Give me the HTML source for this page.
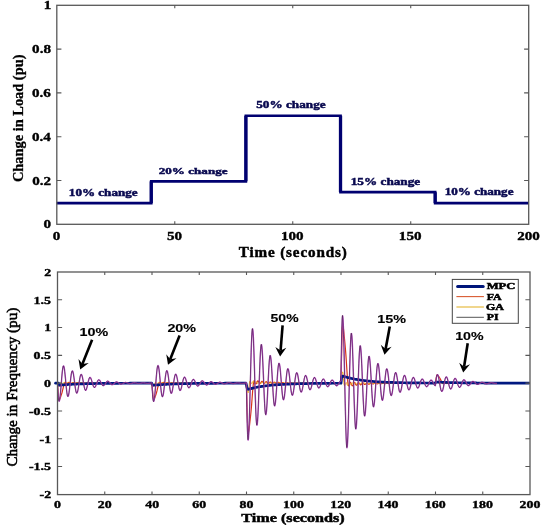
<!DOCTYPE html>
<html><head><meta charset="utf-8"><title>Load change and frequency response</title>
<style>html,body{margin:0;padding:0;background:#fff;}svg{display:block;filter:blur(0.3px);}</style>
</head><body>
<svg width="550" height="530" viewBox="0 0 550 530"><rect x="56.8" y="5.3" width="471.90" height="219.00" fill="#fff" stroke="none"/>
<path d="M56.60,203.15 L151.24,203.15 L151.24,181.30 L245.88,181.30 L245.88,115.75 L340.52,115.75 L340.52,192.22 L435.16,192.22 L435.16,203.15 L528.62,203.15" fill="none" stroke="#000070" stroke-width="2.7" stroke-linejoin="miter"/>
<line x1="151.24" y1="203.15" x2="151.24" y2="181.30" stroke="#000070" stroke-width="3.3"/>
<line x1="245.88" y1="181.30" x2="245.88" y2="115.75" stroke="#000070" stroke-width="3.3"/>
<line x1="340.52" y1="115.75" x2="340.52" y2="192.22" stroke="#000070" stroke-width="3.3"/>
<line x1="435.16" y1="192.22" x2="435.16" y2="203.15" stroke="#000070" stroke-width="3.3"/>
<path d="M56.8,180.50h4.6 M528.7,180.50h-4.6 M56.8,136.70h4.6 M528.7,136.70h-4.6 M56.8,92.90h4.6 M528.7,92.90h-4.6 M56.8,49.10h4.6 M528.7,49.10h-4.6 M174.77,224.3v-3 M174.77,5.3v3 M292.75,224.3v-3 M292.75,5.3v3 M410.73,224.3v-3 M410.73,5.3v3" stroke="#585858" stroke-width="1.1" fill="none"/>
<rect x="56.8" y="5.3" width="471.90" height="219.00" fill="none" stroke="#585858" stroke-width="1.3"/>
<text transform="translate(43.72,9.36) scale(1.26,1)" font-family="'Liberation Serif',serif" font-weight="bold" font-size="12.0" stroke="#000" stroke-width="0.35">1</text>
<text transform="translate(32.10,53.19) scale(1.26,1)" font-family="'Liberation Serif',serif" font-weight="bold" font-size="12.0" stroke="#000" stroke-width="0.35">0.8</text>
<text transform="translate(32.04,96.99) scale(1.26,1)" font-family="'Liberation Serif',serif" font-weight="bold" font-size="12.0" stroke="#000" stroke-width="0.35">0.6</text>
<text transform="translate(31.88,140.79) scale(1.26,1)" font-family="'Liberation Serif',serif" font-weight="bold" font-size="12.0" stroke="#000" stroke-width="0.35">0.4</text>
<text transform="translate(32.25,184.59) scale(1.26,1)" font-family="'Liberation Serif',serif" font-weight="bold" font-size="12.0" stroke="#000" stroke-width="0.35">0.2</text>
<text transform="translate(43.52,228.39) scale(1.26,1)" font-family="'Liberation Serif',serif" font-weight="bold" font-size="12.0" stroke="#000" stroke-width="0.35">0</text>
<text transform="translate(52.82,239.85) scale(1.26,1)" font-family="'Liberation Serif',serif" font-weight="bold" font-size="12.0" stroke="#000" stroke-width="0.35">0</text>
<text transform="translate(167.00,239.85) scale(1.26,1)" font-family="'Liberation Serif',serif" font-weight="bold" font-size="12.0" stroke="#000" stroke-width="0.35">50</text>
<text transform="translate(280.89,239.85) scale(1.26,1)" font-family="'Liberation Serif',serif" font-weight="bold" font-size="12.0" stroke="#000" stroke-width="0.35">100</text>
<text transform="translate(398.87,239.85) scale(1.26,1)" font-family="'Liberation Serif',serif" font-weight="bold" font-size="12.0" stroke="#000" stroke-width="0.35">150</text>
<text transform="translate(517.13,239.85) scale(1.26,1)" font-family="'Liberation Serif',serif" font-weight="bold" font-size="12.0" stroke="#000" stroke-width="0.35">200</text>
<text transform="translate(238.76,256.75) scale(1.100,1)" font-family="'Liberation Serif',serif" font-weight="bold" font-size="13.74" letter-spacing="0.79" fill="#000" stroke="#000" stroke-width="0.45">Time (seconds)</text>
<text transform="translate(23.40,182.10) rotate(-90) scale(1.051,1)" font-family="'Liberation Serif',serif" font-weight="bold" font-size="13.70" fill="#000" stroke="#000" stroke-width="0.3">Change in Load (pu)</text>
<text transform="translate(68.85,195.85) scale(1.399,1)" font-family="'Liberation Serif',serif" font-weight="bold" font-size="9.37" fill="#0a0a50" stroke="#0a0a50" stroke-width="0.45">10% change</text>
<text transform="translate(158.75,173.55) scale(1.423,1)" font-family="'Liberation Serif',serif" font-weight="bold" font-size="9.22" fill="#0a0a50" stroke="#0a0a50" stroke-width="0.45">20% change</text>
<text transform="translate(256.27,108.45) scale(1.310,1)" font-family="'Liberation Serif',serif" font-weight="bold" font-size="10.09" fill="#0a0a50" stroke="#0a0a50" stroke-width="0.45">50% change</text>
<text transform="translate(350.74,184.85) scale(1.371,1)" font-family="'Liberation Serif',serif" font-weight="bold" font-size="9.66" fill="#0a0a50" stroke="#0a0a50" stroke-width="0.45">15% change</text>
<text transform="translate(444.75,194.55) scale(1.399,1)" font-family="'Liberation Serif',serif" font-weight="bold" font-size="9.37" fill="#0a0a50" stroke="#0a0a50" stroke-width="0.45">10% change</text>
<defs><clipPath id="cpi"><rect x="57.5" y="272.0" width="439.43" height="222.60"/></clipPath></defs>
<defs><clipPath id="cb"><rect x="57.5" y="272.0" width="472.50" height="222.60"/></clipPath></defs>
<g clip-path="url(#cb)">
<path d="M57.50,383.15L57.85,388.28L58.21,393.02L58.56,396.80L58.92,399.14L59.27,399.80L59.63,399.38L59.98,398.65L60.34,397.72L60.69,396.69L61.04,395.64L61.40,394.57L61.75,393.47L62.11,392.27L62.46,390.94L62.82,389.48L63.17,387.91L63.52,386.33L63.88,384.87L64.23,383.66L64.59,382.81L64.94,382.39L65.30,382.41L65.65,382.68L66.00,382.98L66.36,383.24L66.71,383.37L67.07,383.36L67.42,383.20L67.78,382.95L68.13,382.69L68.49,382.48L68.84,382.39L69.19,382.44L69.55,382.61L69.90,382.85L70.26,383.09L70.61,383.27L70.97,383.34L71.32,383.29L71.67,383.13L72.03,382.92L72.38,382.72L72.74,382.58L73.09,382.54L73.45,382.62L73.80,382.78L74.16,382.98L74.51,383.16L74.86,383.28L75.22,383.30L75.57,383.22L75.93,383.08L76.28,382.91L76.64,382.76L76.99,382.67L77.34,382.67L77.70,382.76L78.05,382.90L78.41,383.06L78.76,383.20L79.12,383.27L79.47,383.26L79.83,383.18L80.18,383.05L80.53,382.91L80.89,382.80L81.24,382.76L81.60,382.78L81.95,382.87L82.31,382.99L82.66,383.12L83.02,383.21L83.37,383.25L83.72,383.22L84.08,383.14L84.43,383.03L84.79,382.92L85.14,382.85L85.50,382.83L85.85,382.87L86.20,382.96L86.56,383.06L86.91,383.15L87.27,383.22L87.62,383.23L87.98,383.19L88.33,383.11L88.69,383.02L89.04,382.95L89.39,382.90L89.75,382.90L90.10,382.95L90.46,383.02L90.81,383.10L91.17,383.17L91.52,383.21L91.87,383.21L92.23,383.16L92.58,383.10L92.94,383.03L93.29,382.97L93.65,382.95L94.00,382.96L94.35,383.00L94.71,383.07L95.06,383.13L95.42,383.18L95.77,383.20L96.13,383.19L96.48,383.14L96.84,383.09L97.19,383.03L97.54,383.00L97.90,382.99L98.25,383.01L98.61,383.05L98.96,383.10L99.32,383.15L99.67,383.18L100.03,383.19L100.38,383.17L100.73,383.13L101.09,383.08L101.44,383.04L101.80,383.02L102.15,383.02L102.51,383.04L102.86,383.08L103.21,383.13L103.57,383.16L103.92,383.18L104.28,383.18L104.63,383.16L104.99,383.12L105.34,383.09L105.69,383.06L106.05,383.04L106.40,383.05L106.76,383.07L107.11,383.11L107.47,383.14L107.82,383.17L108.18,383.18L108.53,383.17L108.88,383.15L109.24,383.12L109.59,383.09L109.95,383.07L110.30,383.07L110.66,383.08L111.01,383.10L111.37,383.13L111.72,383.15L112.07,383.17L112.43,383.17L112.78,383.16L113.14,383.14L113.49,383.12L113.85,383.09L114.20,383.08L114.55,383.08L114.91,383.10L115.26,383.12L115.62,383.14L115.97,383.16L116.33,383.17L116.68,383.17L117.03,383.15L117.39,383.14L117.74,383.12L118.10,383.10L118.45,383.10L118.81,383.10L119.16,383.11L119.52,383.13L119.87,383.15L120.22,383.16L120.58,383.16L120.93,383.16L121.29,383.15L121.64,383.13L122.00,383.12L122.35,383.11L122.70,383.11L123.06,383.11L123.41,383.12L123.77,383.14L124.12,383.15L124.48,383.16L124.83,383.16L125.19,383.16L125.54,383.14L125.89,383.13L126.25,383.12L126.60,383.12L126.96,383.12L127.31,383.12L127.67,383.13L128.02,383.14L128.38,383.15L128.73,383.16L129.08,383.16L129.44,383.15L129.79,383.14L130.15,383.13L130.50,383.12L130.86,383.12L131.21,383.12L131.56,383.13L131.92,383.14L132.27,383.15L132.63,383.15L132.98,383.16L133.34,383.16L133.69,383.15L134.05,383.14L134.40,383.13L134.75,383.13L135.11,383.13L135.46,383.13L135.82,383.14L136.17,383.14L136.53,383.15L136.88,383.15L137.23,383.16L137.59,383.15L137.94,383.15L138.30,383.14L138.65,383.14L139.01,383.13L139.36,383.13L139.72,383.14L140.07,383.14L140.42,383.15L140.78,383.15L141.13,383.15L141.49,383.15L141.84,383.15L142.20,383.15L142.55,383.14L142.90,383.14L143.26,383.14L143.61,383.14L143.97,383.14L144.32,383.14L144.68,383.15L145.03,383.15L145.38,383.15L145.74,383.15L146.09,383.15L146.45,383.15L146.80,383.14L147.16,383.14L147.51,383.14L147.87,383.14L148.22,383.14L148.57,383.15L148.93,383.15L149.28,383.15L149.64,383.15L149.99,383.15L150.35,383.15L150.70,383.15L151.06,383.14L151.41,383.14L151.76,383.14L152.12,384.86L152.47,389.93L152.83,394.41L153.18,397.76L153.54,399.56L153.89,399.70L154.24,399.16L154.60,398.35L154.95,397.38L155.31,396.33L155.66,395.28L156.02,394.20L156.37,393.08L156.72,391.84L157.08,390.47L157.43,388.96L157.79,387.38L158.14,385.83L158.50,384.43L158.85,383.33L159.21,382.62L159.56,382.34L159.91,382.48L160.27,382.77L160.62,383.07L160.98,383.30L161.33,383.39L161.69,383.32L162.04,383.13L162.39,382.86L162.75,382.61L163.10,382.44L163.46,382.39L163.81,382.48L164.17,382.68L164.52,382.93L164.88,383.16L165.23,383.31L165.58,383.34L165.94,383.24L166.29,383.06L166.65,382.85L167.00,382.66L167.36,382.55L167.71,382.55L168.06,382.66L168.42,382.84L168.77,383.04L169.13,383.21L169.48,383.30L169.84,383.29L170.19,383.18L170.55,383.02L170.90,382.85L171.25,382.72L171.61,382.66L171.96,382.69L172.32,382.80L172.67,382.95L173.03,383.11L173.38,383.23L173.73,383.27L174.09,383.24L174.44,383.14L174.80,383.00L175.15,382.87L175.51,382.78L175.86,382.76L176.22,382.80L176.57,382.91L176.92,383.04L177.28,383.15L177.63,383.23L177.99,383.25L178.34,383.20L178.70,383.10L179.05,382.99L179.41,382.89L179.76,382.84L180.11,382.84L180.47,382.89L180.82,382.99L181.18,383.09L181.53,383.18L181.89,383.23L182.24,383.22L182.59,383.17L182.95,383.08L183.30,382.99L183.66,382.93L184.01,382.89L184.37,382.91L184.72,382.97L185.07,383.05L185.43,383.13L185.78,383.19L186.14,383.21L186.49,383.20L186.85,383.14L187.20,383.07L187.56,383.00L187.91,382.96L188.26,382.95L188.62,382.97L188.97,383.02L189.33,383.09L189.68,383.15L190.04,383.19L190.39,383.20L190.75,383.18L191.10,383.13L191.45,383.07L191.81,383.02L192.16,382.99L192.52,382.99L192.87,383.02L193.23,383.07L193.58,383.12L193.93,383.17L194.29,383.19L194.64,383.19L195.00,383.16L195.35,383.12L195.71,383.07L196.06,383.03L196.41,383.02L196.77,383.03L197.12,383.06L197.48,383.10L197.83,383.14L198.19,383.17L198.54,383.18L198.90,383.17L199.25,383.15L199.60,383.11L199.96,383.07L200.31,383.05L200.67,383.04L201.02,383.06L201.38,383.08L201.73,383.12L202.08,383.15L202.44,383.17L202.79,383.18L203.15,383.16L203.50,383.14L203.86,383.11L204.21,383.08L204.57,383.07L204.92,383.07L205.27,383.08L205.63,383.11L205.98,383.13L206.34,383.16L206.69,383.17L207.05,383.17L207.40,383.15L207.75,383.13L208.11,383.11L208.46,383.09L208.82,383.08L209.17,383.09L209.53,383.10L209.88,383.12L210.24,383.14L210.59,383.16L210.94,383.17L211.30,383.16L211.65,383.15L212.01,383.13L212.36,383.11L212.72,383.10L213.07,383.09L213.43,383.10L213.78,383.12L214.13,383.13L214.49,383.15L214.84,383.16L215.20,383.16L215.55,383.16L215.91,383.14L216.26,383.13L216.61,383.11L216.97,383.11L217.32,383.11L217.68,383.11L218.03,383.13L218.39,383.14L218.74,383.15L219.09,383.16L219.45,383.16L219.80,383.15L220.16,383.14L220.51,383.13L220.87,383.12L221.22,383.11L221.58,383.12L221.93,383.12L222.28,383.14L222.64,383.15L222.99,383.16L223.35,383.16L223.70,383.16L224.06,383.15L224.41,383.14L224.76,383.13L225.12,383.12L225.47,383.12L225.83,383.12L226.18,383.13L226.54,383.14L226.89,383.15L227.25,383.16L227.60,383.16L227.95,383.15L228.31,383.15L228.66,383.14L229.02,383.13L229.37,383.13L229.73,383.13L230.08,383.13L230.44,383.14L230.79,383.15L231.14,383.15L231.50,383.16L231.85,383.16L232.21,383.15L232.56,383.15L232.92,383.14L233.27,383.13L233.62,383.13L233.98,383.13L234.33,383.14L234.69,383.14L235.04,383.15L235.40,383.15L235.75,383.15L236.10,383.15L236.46,383.15L236.81,383.14L237.17,383.14L237.52,383.14L237.88,383.14L238.23,383.14L238.59,383.14L238.94,383.15L239.29,383.15L239.65,383.15L240.00,383.15L240.36,383.15L240.71,383.15L241.07,383.14L241.42,383.14L241.78,383.14L242.13,383.14L242.48,383.14L242.84,383.14L243.19,383.15L243.55,383.15L243.90,383.15L244.26,383.15L244.61,383.15L244.96,383.15L245.32,383.14L245.67,383.14L246.03,383.14L246.38,383.14L246.74,393.45L247.09,408.27L247.44,420.73L247.80,429.33L248.15,433.03L248.51,432.38L248.86,430.46L249.22,427.82L249.57,424.81L249.93,421.66L250.28,418.48L250.63,415.22L250.99,411.74L251.34,407.90L251.70,403.64L252.05,399.01L252.41,394.25L252.76,389.71L253.12,385.79L253.47,382.84L253.82,381.13L254.18,380.75L254.53,381.43L254.89,382.35L255.24,383.19L255.60,383.73L255.95,383.84L256.30,383.50L256.66,382.82L257.01,382.02L257.37,381.32L257.72,380.92L258.08,380.93L258.43,381.32L258.78,381.99L259.14,382.74L259.49,383.36L259.85,383.69L260.20,383.65L260.56,383.27L260.91,382.67L261.27,382.03L261.62,381.54L261.97,381.32L262.33,381.44L262.68,381.84L263.04,382.42L263.39,383.01L263.75,383.44L264.10,383.61L264.46,383.48L264.81,383.10L265.16,382.59L265.52,382.10L265.87,381.77L266.23,381.68L266.58,381.86L266.94,382.25L267.29,382.73L267.64,383.17L268.00,383.45L268.35,383.51L268.71,383.33L269.06,382.98L269.42,382.56L269.77,382.20L270.12,381.99L270.48,381.99L270.83,382.20L271.19,382.55L271.54,382.94L271.90,383.26L272.25,383.43L272.61,383.41L272.96,383.21L273.31,382.90L273.67,382.57L274.02,382.31L274.38,382.20L274.73,382.26L275.09,382.47L275.44,382.77L275.79,383.08L276.15,383.30L276.50,383.39L276.86,383.32L277.21,383.12L277.57,382.86L277.92,382.61L278.28,382.43L278.63,382.39L278.98,382.48L279.34,382.68L279.69,382.93L280.05,383.16L280.40,383.31L280.76,383.34L281.11,383.24L281.47,383.06L281.82,382.85L282.17,382.66L282.53,382.55L282.88,382.55L283.24,382.66L283.59,382.84L283.95,383.04L284.30,383.21L284.65,383.30L285.01,383.29L285.36,383.18L285.72,383.02L286.07,382.85L286.43,382.72L286.78,382.66L287.13,382.69L287.49,382.80L287.84,382.95L288.20,383.11L288.55,383.23L288.91,383.27L289.26,383.24L289.62,383.14L289.97,383.00L290.32,382.87L290.68,382.78L291.03,382.75L291.39,382.80L291.74,382.91L292.10,383.04L292.45,383.16L292.81,383.23L293.16,383.25L293.51,383.20L293.87,383.10L294.22,382.99L294.58,382.89L294.93,382.84L295.29,382.84L295.64,382.89L295.99,382.99L296.35,383.09L296.70,383.18L297.06,383.23L297.41,383.22L297.77,383.17L298.12,383.08L298.48,382.99L298.83,382.92L299.18,382.89L299.54,382.91L299.89,382.97L300.25,383.05L300.60,383.13L300.96,383.19L301.31,383.21L301.66,383.20L302.02,383.14L302.37,383.07L302.73,383.00L303.08,382.96L303.44,382.94L303.79,382.97L304.14,383.02L304.50,383.09L304.85,383.15L305.21,383.19L305.56,383.20L305.92,383.18L306.27,383.13L306.63,383.07L306.98,383.02L307.33,382.99L307.69,382.99L308.04,383.02L308.40,383.07L308.75,383.12L309.11,383.17L309.46,383.19L309.81,383.19L310.17,383.16L310.52,383.12L310.88,383.07L311.23,383.03L311.59,383.02L311.94,383.03L312.30,383.06L312.65,383.10L313.00,383.14L313.36,383.17L313.71,383.18L314.07,383.17L314.42,383.15L314.78,383.11L315.13,383.07L315.49,383.05L315.84,383.04L316.19,383.06L316.55,383.08L316.90,383.12L317.26,383.15L317.61,383.17L317.97,383.18L318.32,383.16L318.67,383.14L319.03,383.11L319.38,383.08L319.74,383.07L320.09,383.07L320.45,383.08L320.80,383.11L321.15,383.13L321.51,383.16L321.86,383.17L322.22,383.17L322.57,383.15L322.93,383.13L323.28,383.11L323.64,383.09L323.99,383.08L324.34,383.09L324.70,383.10L325.05,383.12L325.41,383.14L325.76,383.16L326.12,383.17L326.47,383.16L326.82,383.15L327.18,383.13L327.53,383.11L327.89,383.10L328.24,383.09L328.60,383.10L328.95,383.12L329.31,383.13L329.66,383.15L330.01,383.16L330.37,383.16L330.72,383.16L331.08,383.14L331.43,383.13L331.79,383.11L332.14,383.11L332.49,383.11L332.85,383.11L333.20,383.13L333.56,383.14L333.91,383.15L334.27,383.16L334.62,383.16L334.98,383.15L335.33,383.14L335.68,383.13L336.04,383.12L336.39,383.11L336.75,383.12L337.10,383.12L337.46,383.14L337.81,383.15L338.17,383.16L338.52,383.16L338.87,383.16L339.23,383.15L339.58,383.14L339.94,383.13L340.29,383.12L340.65,383.12L341.00,383.12L341.35,365.17L341.71,348.59L342.06,335.39L342.42,327.17L342.77,324.89L343.13,326.35L343.48,328.91L343.83,332.16L344.19,335.74L344.54,339.42L344.90,343.15L345.25,347.02L345.61,351.21L345.96,355.87L346.32,361.01L346.67,366.50L347.02,372.02L347.38,377.13L347.73,381.36L348.09,384.33L348.44,385.80L348.80,385.74L349.15,384.79L349.50,383.72L349.86,382.83L350.21,382.37L350.57,382.43L350.92,382.98L351.28,383.84L351.63,384.76L351.99,385.48L352.34,385.79L352.69,385.62L353.05,385.02L353.40,384.19L353.76,383.34L354.11,382.72L354.47,382.48L354.82,382.68L355.18,383.23L355.53,383.96L355.88,384.67L356.24,385.15L356.59,385.27L356.95,385.01L357.30,384.45L357.66,383.75L358.01,383.11L358.36,382.70L358.72,382.63L359.07,382.89L359.43,383.40L359.78,384.00L360.14,384.53L360.49,384.82L360.85,384.82L361.20,384.51L361.55,384.01L361.91,383.45L362.26,382.98L362.62,382.74L362.97,382.77L363.33,383.06L363.68,383.51L364.03,383.99L364.39,384.36L364.74,384.52L365.10,384.43L365.45,384.12L365.81,383.69L366.16,383.25L366.51,382.93L366.87,382.80L367.22,382.90L367.58,383.19L367.93,383.57L368.29,383.94L368.64,384.19L369.00,384.25L369.35,384.11L369.70,383.82L370.06,383.46L370.41,383.13L370.77,382.92L371.12,382.88L371.48,383.02L371.83,383.28L372.18,383.59L372.54,383.86L372.89,384.02L373.25,384.01L373.60,383.86L373.96,383.60L374.31,383.30L374.67,383.06L375.02,382.94L375.37,382.95L375.73,383.10L376.08,383.34L376.44,383.59L376.79,383.78L377.15,383.86L377.50,383.81L377.86,383.66L378.21,383.43L378.56,383.20L378.92,383.03L379.27,382.97L379.63,383.02L379.98,383.17L380.34,383.37L380.69,383.56L381.04,383.69L381.40,383.72L381.75,383.65L382.11,383.50L382.46,383.31L382.82,383.14L383.17,383.03L383.52,383.01L383.88,383.08L384.23,383.22L384.59,383.38L384.94,383.52L385.30,383.60L385.65,383.60L386.01,383.52L386.36,383.38L386.71,383.23L387.07,383.11L387.42,383.04L387.78,383.05L388.13,383.13L388.49,383.25L388.84,383.38L389.19,383.48L389.55,383.52L389.90,383.49L390.26,383.41L390.61,383.30L390.97,383.18L391.32,383.09L391.68,383.06L392.03,383.08L392.38,383.16L392.74,383.26L393.09,383.36L393.45,383.43L393.80,383.45L394.16,383.41L394.51,383.33L394.86,383.23L395.22,383.14L395.57,383.09L395.93,383.08L396.28,383.11L396.64,383.18L396.99,383.27L397.35,383.34L397.70,383.38L398.05,383.38L398.41,383.34L398.76,383.27L399.12,383.19L399.47,383.13L399.83,383.09L400.18,383.10L400.54,383.14L400.89,383.20L401.24,383.27L401.60,383.32L401.95,383.34L402.31,383.33L402.66,383.29L403.02,383.23L403.37,383.16L403.72,383.12L404.08,383.10L404.43,383.12L404.79,383.16L405.14,383.21L405.50,383.26L405.85,383.29L406.20,383.30L406.56,383.28L406.91,383.24L407.27,383.19L407.62,383.15L407.98,383.12L408.33,383.11L408.69,383.13L409.04,383.17L409.39,383.21L409.75,383.25L410.10,383.27L410.46,383.27L410.81,383.25L411.17,383.21L411.52,383.17L411.88,383.14L412.23,383.12L412.58,383.12L412.94,383.14L413.29,383.18L413.65,383.21L414.00,383.24L414.36,383.25L414.71,383.24L415.06,383.22L415.42,383.19L415.77,383.16L416.13,383.13L416.48,383.12L416.84,383.13L417.19,383.15L417.55,383.18L417.90,383.21L418.25,383.23L418.61,383.23L418.96,383.22L419.32,383.20L419.67,383.17L420.03,383.15L420.38,383.13L420.73,383.13L421.09,383.14L421.44,383.16L421.80,383.18L422.15,383.20L422.51,383.21L422.86,383.21L423.21,383.20L423.57,383.18L423.92,383.16L424.28,383.14L424.63,383.13L424.99,383.14L425.34,383.15L425.70,383.16L426.05,383.18L426.40,383.20L426.76,383.20L427.11,383.20L427.47,383.19L427.82,383.17L428.18,383.15L428.53,383.14L428.88,383.14L429.24,383.14L429.59,383.15L429.95,383.17L430.30,383.18L430.66,383.19L431.01,383.19L431.37,383.19L431.72,383.18L432.07,383.16L432.43,383.15L432.78,383.14L433.14,383.14L433.49,383.14L433.85,383.15L434.20,383.17L434.56,383.18L434.91,383.18L435.26,383.18L435.62,382.32L435.97,379.77L436.33,377.52L436.68,375.84L437.04,374.94L437.39,374.87L437.74,375.14L438.10,375.56L438.45,376.05L438.81,376.58L439.16,377.11L439.52,377.64L439.87,378.20L440.23,378.81L440.58,379.49L440.93,380.24L441.29,381.03L441.64,381.81L442.00,382.51L442.35,383.07L442.71,383.43L443.06,383.57L443.41,383.50L443.77,383.35L444.12,383.20L444.48,383.08L444.83,383.03L445.19,383.06L445.54,383.16L445.89,383.29L446.25,383.42L446.60,383.51L446.96,383.54L447.31,383.50L447.67,383.40L448.02,383.27L448.38,383.15L448.73,383.07L449.08,383.06L449.44,383.10L449.79,383.19L450.15,383.30L450.50,383.40L450.86,383.46L451.21,383.46L451.56,383.41L451.92,383.32L452.27,383.21L452.63,383.13L452.98,383.08L453.34,383.08L453.69,383.13L454.05,383.21L454.40,383.30L454.75,383.37L455.11,383.40L455.46,383.39L455.82,383.34L456.17,383.26L456.53,383.18L456.88,383.11L457.24,383.09L457.59,383.10L457.94,383.15L458.30,383.22L458.65,383.29L459.01,383.34L459.36,383.35L459.72,383.33L460.07,383.28L460.42,383.21L460.78,383.15L461.13,383.11L461.49,383.10L461.84,383.12L462.20,383.17L462.55,383.23L462.90,383.28L463.26,383.31L463.61,383.31L463.97,383.28L464.32,383.24L464.68,383.18L465.03,383.14L465.39,383.11L465.74,383.11L466.09,383.14L466.45,383.18L466.80,383.23L467.16,383.26L467.51,383.28L467.87,383.27L468.22,383.25L468.57,383.21L468.93,383.16L469.28,383.13L469.64,383.12L469.99,383.13L470.35,383.15L470.70,383.19L471.06,383.22L471.41,383.25L471.76,383.26L472.12,383.24L472.47,383.22L472.83,383.18L473.18,383.15L473.54,383.13L473.89,383.12L474.25,383.14L474.60,383.16L474.95,383.19L475.31,383.22L475.66,383.23L476.02,383.23L476.37,383.22L476.73,383.20L477.08,383.17L477.43,383.14L477.79,383.13L478.14,383.13L478.50,383.14L478.85,383.17L479.21,383.19L479.56,383.21L479.91,383.22L480.27,383.21L480.62,383.20L480.98,383.18L481.33,383.16L481.69,383.14L482.04,383.13L482.40,383.14L482.75,383.15L483.10,383.17L483.46,383.19L483.81,383.20L484.17,383.20L484.52,383.20L484.88,383.18L485.23,383.17L485.58,383.15L485.94,383.14L486.29,383.14L486.65,383.14L487.00,383.16L487.36,383.17L487.71,383.18L488.07,383.19L488.42,383.19L488.77,383.19L489.13,383.17L489.48,383.16L489.84,383.15L490.19,383.14L490.55,383.14L490.90,383.15L491.25,383.16L491.61,383.17L491.96,383.18L492.32,383.19L492.67,383.18L493.03,383.18L493.38,383.16L493.74,383.15L494.09,383.14L494.44,383.14L494.80,383.14L495.15,383.15L495.51,383.16L495.86,383.17L496.22,383.18L496.57,383.18L496.93,383.18L497.28,383.17L497.63,383.16L497.99,383.15L498.34,383.14L498.70,383.14L499.05,383.15L499.41,383.15L499.76,383.16L500.11,383.17L500.47,383.17L500.82,383.17L501.18,383.17L501.53,383.16L501.89,383.15L502.24,383.15L502.60,383.14L502.95,383.14L503.30,383.15L503.66,383.15L504.01,383.16L504.37,383.17L504.72,383.17L505.08,383.17L505.43,383.16L505.78,383.16L506.14,383.15L506.49,383.15L506.85,383.15L507.20,383.15L507.56,383.15L507.91,383.16L508.26,383.16L508.62,383.16L508.97,383.16L509.33,383.16L509.68,383.16L510.04,383.15L510.39,383.15L510.75,383.15L511.10,383.15L511.45,383.15L511.81,383.15L512.16,383.16L512.52,383.16L512.87,383.16L513.23,383.16L513.58,383.16L513.93,383.16L514.29,383.15L514.64,383.15L515.00,383.15L515.35,383.15L515.71,383.15L516.06,383.15L516.42,383.16L516.77,383.16L517.12,383.16L517.48,383.16L517.83,383.16L518.19,383.15L518.54,383.15L518.90,383.15L519.25,383.15L519.61,383.15L519.96,383.15L520.31,383.15L520.67,383.16L521.02,383.16L521.38,383.16L521.73,383.16L522.09,383.15L522.44,383.15L522.79,383.15L523.15,383.15L523.50,383.15L523.86,383.15L524.21,383.15L524.57,383.15L524.92,383.15L525.27,383.16L525.63,383.16L525.98,383.16L526.34,383.15L526.69,383.15L527.05,383.15L527.40,383.15L527.76,383.15L528.11,383.15L528.46,383.15L528.82,383.15L529.17,383.15L529.53,383.15L529.88,383.15" fill="none" stroke="#d83418" stroke-width="1.2" stroke-linejoin="round"/>
<path d="M57.50,383.15L57.85,384.21L58.21,385.13L58.56,385.89L58.92,386.35L59.27,386.30L59.63,385.64L59.98,384.53L60.34,383.36L60.69,382.59L61.04,382.40L61.40,382.48L61.75,382.76L62.11,383.10L62.46,383.31L62.82,383.31L63.17,383.10L63.52,382.80L63.88,382.56L64.23,382.50L64.59,382.65L64.94,382.92L65.30,383.18L65.65,383.30L66.00,383.24L66.36,383.03L66.71,382.79L67.07,382.64L67.42,382.65L67.78,382.81L68.13,383.04L68.49,383.22L68.84,383.27L69.19,383.17L69.55,382.98L69.90,382.80L70.26,382.72L70.61,382.78L70.97,382.94L71.32,383.12L71.67,383.24L72.03,383.23L72.38,383.12L72.74,382.96L73.09,382.84L73.45,382.81L73.80,382.89L74.16,383.03L74.51,383.17L74.86,383.23L75.22,383.20L75.57,383.09L75.93,382.96L76.28,382.88L76.64,382.89L76.99,382.97L77.34,383.09L77.70,383.19L78.05,383.21L78.41,383.16L78.76,383.06L79.12,382.97L79.47,382.93L79.83,382.96L80.18,383.04L80.53,383.13L80.89,383.20L81.24,383.19L81.60,383.14L81.95,383.05L82.31,382.99L82.66,382.97L83.02,383.01L83.37,383.09L83.72,383.16L84.08,383.19L84.43,383.17L84.79,383.12L85.14,383.05L85.50,383.01L85.85,383.01L86.20,383.06L86.56,383.12L86.91,383.17L87.27,383.18L87.62,383.16L87.98,383.10L88.33,383.06L88.69,383.03L89.04,383.05L89.39,383.09L89.75,383.14L90.10,383.17L90.46,383.17L90.81,383.14L91.17,383.10L91.52,383.06L91.87,383.06L92.23,383.08L92.58,383.12L92.94,383.15L93.29,383.17L93.65,383.16L94.00,383.13L94.35,383.10L94.71,383.08L95.06,383.08L95.42,383.10L95.77,383.13L96.13,383.16L96.48,383.17L96.84,383.15L97.19,383.13L97.54,383.10L97.90,383.09L98.25,383.10L98.61,383.12L98.96,383.15L99.32,383.16L99.67,383.16L100.03,383.15L100.38,383.12L100.73,383.11L101.09,383.10L101.44,383.11L101.80,383.13L102.15,383.15L102.51,383.16L102.86,383.16L103.21,383.14L103.57,383.12L103.92,383.11L104.28,383.11L104.63,383.12L104.99,383.14L105.34,383.16L105.69,383.16L106.05,383.15L106.40,383.14L106.76,383.12L107.11,383.12L107.47,383.12L107.82,383.13L108.18,383.15L108.53,383.16L108.88,383.16L109.24,383.15L109.59,383.14L109.95,383.13L110.30,383.12L110.66,383.13L111.01,383.14L111.37,383.15L111.72,383.16L112.07,383.15L112.43,383.15L112.78,383.14L113.14,383.13L113.49,383.13L113.85,383.14L114.20,383.15L114.55,383.15L114.91,383.15L115.26,383.15L115.62,383.14L115.97,383.14L116.33,383.13L116.68,383.14L117.03,383.14L117.39,383.15L117.74,383.15L118.10,383.15L118.45,383.15L118.81,383.14L119.16,383.14L119.52,383.14L119.87,383.14L120.22,383.15L120.58,383.15L120.93,383.15L121.29,383.15L121.64,383.15L122.00,383.14L122.35,383.14L122.70,383.14L123.06,383.14L123.41,383.15L123.77,383.15L124.12,383.15L124.48,383.15L124.83,383.15L125.19,383.14L125.54,383.14L125.89,383.14L126.25,383.15L126.60,383.15L126.96,383.15L127.31,383.15L127.67,383.15L128.02,383.15L128.38,383.14L128.73,383.14L129.08,383.14L129.44,383.15L129.79,383.15L130.15,383.15L130.50,383.15L130.86,383.15L131.21,383.15L131.56,383.14L131.92,383.14L132.27,383.15L132.63,383.15L132.98,383.15L133.34,383.15L133.69,383.15L134.05,383.15L134.40,383.15L134.75,383.15L135.11,383.15L135.46,383.15L135.82,383.15L136.17,383.15L136.53,383.15L136.88,383.15L137.23,383.15L137.59,383.15L137.94,383.15L138.30,383.15L138.65,383.15L139.01,383.15L139.36,383.15L139.72,383.15L140.07,383.15L140.42,383.15L140.78,383.15L141.13,383.15L141.49,383.15L141.84,383.15L142.20,383.15L142.55,383.15L142.90,383.15L143.26,383.15L143.61,383.15L143.97,383.15L144.32,383.15L144.68,383.15L145.03,383.15L145.38,383.15L145.74,383.15L146.09,383.15L146.45,383.15L146.80,383.15L147.16,383.15L147.51,383.15L147.87,383.15L148.22,383.15L148.57,383.15L148.93,383.15L149.28,383.15L149.64,383.15L149.99,383.15L150.35,383.15L150.70,383.15L151.06,383.15L151.41,383.15L151.76,383.15L152.12,383.52L152.47,384.53L152.83,385.40L153.18,386.08L153.54,386.40L153.89,386.15L154.24,385.30L154.60,384.12L154.95,383.04L155.31,382.48L155.66,382.40L156.02,382.56L156.37,382.88L156.72,383.19L157.08,383.34L157.43,383.26L157.79,383.00L158.14,382.70L158.50,382.52L158.85,382.53L159.21,382.73L159.56,383.02L159.91,383.24L160.27,383.30L160.62,383.18L160.98,382.94L161.33,382.72L161.69,382.62L162.04,382.69L162.39,382.89L162.75,383.11L163.10,383.26L163.46,383.25L163.81,383.12L164.17,382.92L164.52,382.76L164.88,382.73L165.23,382.82L165.58,383.00L165.94,383.17L166.29,383.25L166.65,383.21L167.00,383.07L167.36,382.91L167.71,382.82L168.06,382.82L168.42,382.93L168.77,383.08L169.13,383.20L169.48,383.23L169.84,383.17L170.19,383.04L170.55,382.93L170.90,382.87L171.25,382.91L171.61,383.01L171.96,383.13L172.32,383.21L172.67,383.20L173.03,383.13L173.38,383.03L173.73,382.95L174.09,382.93L174.44,382.98L174.80,383.07L175.15,383.16L175.51,383.20L175.86,383.18L176.22,383.11L176.57,383.03L176.92,382.98L177.28,382.98L177.63,383.04L177.99,383.11L178.34,383.17L178.70,383.19L179.05,383.16L179.41,383.09L179.76,383.03L180.11,383.01L180.47,383.02L180.82,383.08L181.18,383.14L181.53,383.18L181.89,383.18L182.24,383.14L182.59,383.09L182.95,383.04L183.30,383.03L183.66,383.06L184.01,383.11L184.37,383.16L184.72,383.18L185.07,383.17L185.43,383.13L185.78,383.09L186.14,383.06L186.49,383.06L186.85,383.09L187.20,383.13L187.56,383.16L187.91,383.17L188.26,383.15L188.62,383.12L188.97,383.09L189.33,383.07L189.68,383.08L190.04,383.11L190.39,383.14L190.75,383.17L191.10,383.16L191.45,383.15L191.81,383.12L192.16,383.09L192.52,383.09L192.87,383.10L193.23,383.13L193.58,383.15L193.93,383.16L194.29,383.16L194.64,383.14L195.00,383.12L195.35,383.10L195.71,383.10L196.06,383.12L196.41,383.14L196.77,383.16L197.12,383.16L197.48,383.15L197.83,383.13L198.19,383.12L198.54,383.11L198.90,383.12L199.25,383.13L199.60,383.15L199.96,383.16L200.31,383.16L200.67,383.15L201.02,383.13L201.38,383.12L201.73,383.12L202.08,383.13L202.44,383.14L202.79,383.15L203.15,383.16L203.50,383.15L203.86,383.14L204.21,383.13L204.57,383.13L204.92,383.13L205.27,383.13L205.63,383.14L205.98,383.15L206.34,383.16L206.69,383.15L207.05,383.14L207.40,383.13L207.75,383.13L208.11,383.13L208.46,383.14L208.82,383.15L209.17,383.15L209.53,383.15L209.88,383.15L210.24,383.14L210.59,383.13L210.94,383.13L211.30,383.14L211.65,383.14L212.01,383.15L212.36,383.15L212.72,383.15L213.07,383.15L213.43,383.14L213.78,383.14L214.13,383.14L214.49,383.14L214.84,383.15L215.20,383.15L215.55,383.15L215.91,383.15L216.26,383.15L216.61,383.14L216.97,383.14L217.32,383.14L217.68,383.14L218.03,383.15L218.39,383.15L218.74,383.15L219.09,383.15L219.45,383.15L219.80,383.14L220.16,383.14L220.51,383.14L220.87,383.15L221.22,383.15L221.58,383.15L221.93,383.15L222.28,383.15L222.64,383.15L222.99,383.14L223.35,383.14L223.70,383.15L224.06,383.15L224.41,383.15L224.76,383.15L225.12,383.15L225.47,383.15L225.83,383.15L226.18,383.14L226.54,383.15L226.89,383.15L227.25,383.15L227.60,383.15L227.95,383.15L228.31,383.15L228.66,383.15L229.02,383.15L229.37,383.15L229.73,383.15L230.08,383.15L230.44,383.15L230.79,383.15L231.14,383.15L231.50,383.15L231.85,383.15L232.21,383.15L232.56,383.15L232.92,383.15L233.27,383.15L233.62,383.15L233.98,383.15L234.33,383.15L234.69,383.15L235.04,383.15L235.40,383.15L235.75,383.15L236.10,383.15L236.46,383.15L236.81,383.15L237.17,383.15L237.52,383.15L237.88,383.15L238.23,383.15L238.59,383.15L238.94,383.15L239.29,383.15L239.65,383.15L240.00,383.15L240.36,383.15L240.71,383.15L241.07,383.15L241.42,383.15L241.78,383.15L242.13,383.15L242.48,383.15L242.84,383.15L243.19,383.15L243.55,383.15L243.90,383.15L244.26,383.15L244.61,383.15L244.96,383.15L245.32,383.15L245.67,383.15L246.03,383.15L246.38,383.15L246.74,385.31L247.09,388.21L247.44,390.68L247.80,392.43L248.15,392.87L248.51,391.47L248.86,388.48L249.22,384.89L249.57,382.04L249.93,380.98L250.28,380.98L250.63,381.67L250.99,382.67L251.34,383.48L251.70,383.70L252.05,383.26L252.41,382.39L252.76,381.57L253.12,381.19L253.47,381.44L253.82,382.17L254.18,383.01L254.53,383.55L254.89,383.54L255.24,383.02L255.60,382.29L255.95,381.71L256.30,381.57L256.66,381.93L257.01,382.59L257.37,383.22L257.72,383.52L258.08,383.36L258.43,382.85L258.78,382.27L259.14,381.90L259.49,381.94L259.85,382.33L260.20,382.89L260.56,383.33L260.91,383.45L261.27,383.21L261.62,382.75L261.97,382.31L262.33,382.12L262.68,382.25L263.04,382.64L263.39,383.08L263.75,383.36L264.10,383.35L264.46,383.08L264.81,382.70L265.16,382.40L265.52,382.33L265.87,382.51L266.23,382.86L266.58,383.19L266.94,383.34L267.29,383.26L267.64,383.00L268.00,382.69L268.35,382.50L268.71,382.52L269.06,382.72L269.42,383.01L269.77,383.24L270.12,383.30L270.48,383.18L270.83,382.94L271.19,382.71L271.54,382.61L271.90,382.68L272.25,382.88L272.61,383.11L272.96,383.26L273.31,383.26L273.67,383.12L274.02,382.91L274.38,382.76L274.73,382.72L275.09,382.82L275.44,383.00L275.79,383.17L276.15,383.25L276.50,383.21L276.86,383.07L277.21,382.91L277.57,382.81L277.92,382.82L278.28,382.93L278.63,383.08L278.98,383.20L279.34,383.23L279.69,383.17L280.05,383.04L280.40,382.92L280.76,382.87L281.11,382.91L281.47,383.01L281.82,383.13L282.17,383.21L282.53,383.21L282.88,383.13L283.24,383.03L283.59,382.94L283.95,382.93L284.30,382.98L284.65,383.07L285.01,383.16L285.36,383.20L285.72,383.18L286.07,383.11L286.43,383.02L286.78,382.97L287.13,382.98L287.49,383.03L287.84,383.11L288.20,383.18L288.55,383.19L288.91,383.16L289.26,383.09L289.62,383.03L289.97,383.00L290.32,383.02L290.68,383.08L291.03,383.14L291.39,383.18L291.74,383.18L292.10,383.14L292.45,383.09L292.81,383.04L293.16,383.03L293.51,383.06L293.87,383.11L294.22,383.16L294.58,383.18L294.93,383.17L295.29,383.13L295.64,383.08L295.99,383.06L296.35,383.06L296.70,383.09L297.06,383.13L297.41,383.16L297.77,383.17L298.12,383.15L298.48,383.12L298.83,383.09L299.18,383.07L299.54,383.08L299.89,383.11L300.25,383.14L300.60,383.17L300.96,383.17L301.31,383.15L301.66,383.12L302.02,383.09L302.37,383.09L302.73,383.10L303.08,383.13L303.44,383.15L303.79,383.16L304.14,383.16L304.50,383.14L304.85,383.12L305.21,383.10L305.56,383.10L305.92,383.12L306.27,383.14L306.63,383.16L306.98,383.16L307.33,383.15L307.69,383.13L308.04,383.12L308.40,383.11L308.75,383.12L309.11,383.13L309.46,383.15L309.81,383.16L310.17,383.16L310.52,383.15L310.88,383.13L311.23,383.12L311.59,383.12L311.94,383.13L312.30,383.14L312.65,383.15L313.00,383.16L313.36,383.15L313.71,383.14L314.07,383.13L314.42,383.12L314.78,383.13L315.13,383.13L315.49,383.14L315.84,383.15L316.19,383.16L316.55,383.15L316.90,383.14L317.26,383.13L317.61,383.13L317.97,383.13L318.32,383.14L318.67,383.15L319.03,383.15L319.38,383.15L319.74,383.15L320.09,383.14L320.45,383.13L320.80,383.13L321.15,383.14L321.51,383.14L321.86,383.15L322.22,383.15L322.57,383.15L322.93,383.15L323.28,383.14L323.64,383.14L323.99,383.14L324.34,383.14L324.70,383.15L325.05,383.15L325.41,383.15L325.76,383.15L326.12,383.15L326.47,383.14L326.82,383.14L327.18,383.14L327.53,383.14L327.89,383.15L328.24,383.15L328.60,383.15L328.95,383.15L329.31,383.15L329.66,383.14L330.01,383.14L330.37,383.14L330.72,383.15L331.08,383.15L331.43,383.15L331.79,383.15L332.14,383.15L332.49,383.15L332.85,383.14L333.20,383.14L333.56,383.15L333.91,383.15L334.27,383.15L334.62,383.15L334.98,383.15L335.33,383.15L335.68,383.15L336.04,383.14L336.39,383.15L336.75,383.15L337.10,383.15L337.46,383.15L337.81,383.15L338.17,383.15L338.52,383.15L338.87,383.15L339.23,383.15L339.58,383.15L339.94,383.15L340.29,383.15L340.65,383.15L341.00,383.15L341.35,379.45L341.71,376.22L342.06,373.56L342.42,371.94L342.77,372.11L343.13,374.44L343.48,378.32L343.83,382.41L344.19,385.12L344.54,385.78L344.90,385.48L345.25,384.50L345.61,383.34L345.96,382.59L346.32,382.60L346.67,383.33L347.02,384.39L347.38,385.22L347.73,385.42L348.09,384.90L348.44,383.95L348.80,383.04L349.15,382.61L349.50,382.84L349.86,383.58L350.21,384.43L350.57,384.95L350.92,384.91L351.28,384.33L351.63,383.53L351.99,382.89L352.34,382.72L352.69,383.07L353.05,383.73L353.40,384.36L353.76,384.64L354.11,384.45L354.47,383.89L354.82,383.25L355.18,382.85L355.53,382.86L355.88,383.25L356.24,383.81L356.59,384.24L356.95,384.34L357.30,384.07L357.66,383.57L358.01,383.09L358.36,382.87L358.72,382.99L359.07,383.37L359.43,383.82L359.78,384.09L360.14,384.07L360.49,383.77L360.85,383.35L361.20,383.01L361.55,382.93L361.91,383.11L362.26,383.45L362.62,383.78L362.97,383.93L363.33,383.83L363.68,383.54L364.03,383.20L364.39,382.99L364.74,383.00L365.10,383.20L365.45,383.49L365.81,383.72L366.16,383.77L366.51,383.63L366.87,383.37L367.22,383.12L367.58,383.00L367.93,383.07L368.29,383.27L368.64,383.50L369.00,383.64L369.35,383.63L369.70,383.47L370.06,383.25L370.41,383.08L370.77,383.03L371.12,383.13L371.48,383.31L371.83,383.48L372.18,383.56L372.54,383.50L372.89,383.35L373.25,383.18L373.60,383.07L373.96,383.07L374.31,383.18L374.67,383.33L375.02,383.45L375.37,383.48L375.73,383.40L376.08,383.26L376.44,383.13L376.79,383.07L377.15,383.11L377.50,383.21L377.86,383.33L378.21,383.41L378.56,383.40L378.92,383.32L379.27,383.20L379.63,383.11L379.98,383.09L380.34,383.14L380.69,383.23L381.04,383.32L381.40,383.36L381.75,383.34L382.11,383.26L382.46,383.16L382.82,383.11L383.17,383.11L383.52,383.16L383.88,383.24L384.23,383.31L384.59,383.32L384.94,383.28L385.30,383.21L385.65,383.14L386.01,383.11L386.36,383.13L386.71,383.18L387.07,383.24L387.42,383.28L387.78,383.28L388.13,383.24L388.49,383.18L388.84,383.13L389.19,383.12L389.55,383.14L389.90,383.19L390.26,383.24L390.61,383.26L390.97,383.25L391.32,383.21L391.68,383.16L392.03,383.13L392.38,383.13L392.74,383.16L393.09,383.20L393.45,383.23L393.80,383.24L394.16,383.22L394.51,383.18L394.86,383.15L395.22,383.13L395.57,383.14L395.93,383.17L396.28,383.20L396.64,383.22L396.99,383.22L397.35,383.20L397.70,383.16L398.05,383.14L398.41,383.13L398.76,383.15L399.12,383.17L399.47,383.20L399.83,383.21L400.18,383.20L400.54,383.18L400.89,383.15L401.24,383.14L401.60,383.14L401.95,383.15L402.31,383.18L402.66,383.19L403.02,383.20L403.37,383.19L403.72,383.17L404.08,383.15L404.43,383.14L404.79,383.14L405.14,383.16L405.50,383.18L405.85,383.19L406.20,383.19L406.56,383.17L406.91,383.16L407.27,383.14L407.62,383.14L407.98,383.15L408.33,383.16L408.69,383.17L409.04,383.18L409.39,383.18L409.75,383.17L410.10,383.15L410.46,383.14L410.81,383.14L411.17,383.15L411.52,383.16L411.88,383.17L412.23,383.17L412.58,383.17L412.94,383.16L413.29,383.15L413.65,383.14L414.00,383.15L414.36,383.15L414.71,383.16L415.06,383.17L415.42,383.17L415.77,383.16L416.13,383.15L416.48,383.15L416.84,383.15L417.19,383.15L417.55,383.16L417.90,383.16L418.25,383.17L418.61,383.16L418.96,383.16L419.32,383.15L419.67,383.15L420.03,383.15L420.38,383.15L420.73,383.16L421.09,383.16L421.44,383.16L421.80,383.16L422.15,383.15L422.51,383.15L422.86,383.15L423.21,383.15L423.57,383.15L423.92,383.16L424.28,383.16L424.63,383.16L424.99,383.16L425.34,383.15L425.70,383.15L426.05,383.15L426.40,383.15L426.76,383.15L427.11,383.16L427.47,383.16L427.82,383.16L428.18,383.15L428.53,383.15L428.88,383.15L429.24,383.15L429.59,383.15L429.95,383.15L430.30,383.16L430.66,383.16L431.01,383.16L431.37,383.15L431.72,383.15L432.07,383.15L432.43,383.15L432.78,383.15L433.14,383.15L433.49,383.16L433.85,383.16L434.20,383.15L434.56,383.15L434.91,383.15L435.26,383.15L435.62,382.97L435.97,382.46L436.33,382.03L436.68,381.69L437.04,381.53L437.39,381.65L437.74,382.07L438.10,382.66L438.45,383.20L438.81,383.49L439.16,383.53L439.52,383.45L439.87,383.29L440.23,383.13L440.58,383.06L440.93,383.10L441.29,383.22L441.64,383.37L442.00,383.47L442.35,383.46L442.71,383.36L443.06,383.22L443.41,383.11L443.77,383.07L444.12,383.14L444.48,383.25L444.83,383.36L445.19,383.42L445.54,383.38L445.89,383.28L446.25,383.17L446.60,383.10L446.96,383.10L447.31,383.17L447.67,383.27L448.02,383.34L448.38,383.36L448.73,383.32L449.08,383.23L449.44,383.14L449.79,383.10L450.15,383.12L450.50,383.19L450.86,383.27L451.21,383.32L451.56,383.31L451.92,383.26L452.27,383.19L452.63,383.13L452.98,383.11L453.34,383.14L453.69,383.20L454.05,383.26L454.40,383.29L454.75,383.27L455.11,383.22L455.46,383.16L455.82,383.12L456.17,383.12L456.53,383.16L456.88,383.21L457.24,383.25L457.59,383.26L457.94,383.24L458.30,383.19L458.65,383.15L459.01,383.12L459.36,383.14L459.72,383.17L460.07,383.21L460.42,383.24L460.78,383.24L461.13,383.21L461.49,383.17L461.84,383.14L462.20,383.13L462.55,383.15L462.90,383.18L463.26,383.21L463.61,383.22L463.97,383.21L464.32,383.19L464.68,383.16L465.03,383.14L465.39,383.14L465.74,383.15L466.09,383.18L466.45,383.20L466.80,383.21L467.16,383.19L467.51,383.17L467.87,383.15L468.22,383.14L468.57,383.14L468.93,383.16L469.28,383.18L469.64,383.20L469.99,383.19L470.35,383.18L470.70,383.16L471.06,383.14L471.41,383.14L471.76,383.15L472.12,383.16L472.47,383.18L472.83,383.19L473.18,383.18L473.54,383.17L473.89,383.15L474.25,383.14L474.60,383.14L474.95,383.15L475.31,383.17L475.66,383.18L476.02,383.18L476.37,383.17L476.73,383.16L477.08,383.15L477.43,383.14L477.79,383.15L478.14,383.16L478.50,383.17L478.85,383.17L479.21,383.17L479.56,383.17L479.91,383.16L480.27,383.15L480.62,383.14L480.98,383.15L481.33,383.16L481.69,383.17L482.04,383.17L482.40,383.17L482.75,383.16L483.10,383.15L483.46,383.15L483.81,383.15L484.17,383.15L484.52,383.16L484.88,383.16L485.23,383.17L485.58,383.16L485.94,383.16L486.29,383.15L486.65,383.15L487.00,383.15L487.36,383.15L487.71,383.16L488.07,383.16L488.42,383.16L488.77,383.16L489.13,383.15L489.48,383.15L489.84,383.15L490.19,383.15L490.55,383.15L490.90,383.16L491.25,383.16L491.61,383.16L491.96,383.16L492.32,383.15L492.67,383.15L493.03,383.15L493.38,383.15L493.74,383.15L494.09,383.16L494.44,383.16L494.80,383.16L495.15,383.15L495.51,383.15L495.86,383.15L496.22,383.15L496.57,383.15L496.93,383.15L497.28,383.16L497.63,383.16L497.99,383.15L498.34,383.15L498.70,383.15L499.05,383.15L499.41,383.15L499.76,383.15L500.11,383.15L500.47,383.16L500.82,383.15L501.18,383.15L501.53,383.15L501.89,383.15L502.24,383.15L502.60,383.15L502.95,383.15L503.30,383.15L503.66,383.15L504.01,383.15L504.37,383.15L504.72,383.15L505.08,383.15L505.43,383.15L505.78,383.15L506.14,383.15L506.49,383.15L506.85,383.15L507.20,383.15L507.56,383.15L507.91,383.15L508.26,383.15L508.62,383.15L508.97,383.15L509.33,383.15L509.68,383.15L510.04,383.15L510.39,383.15L510.75,383.15L511.10,383.15L511.45,383.15L511.81,383.15L512.16,383.15L512.52,383.15L512.87,383.15L513.23,383.15L513.58,383.15L513.93,383.15L514.29,383.15L514.64,383.15L515.00,383.15L515.35,383.15L515.71,383.15L516.06,383.15L516.42,383.15L516.77,383.15L517.12,383.15L517.48,383.15L517.83,383.15L518.19,383.15L518.54,383.15L518.90,383.15L519.25,383.15L519.61,383.15L519.96,383.15L520.31,383.15L520.67,383.15L521.02,383.15L521.38,383.15L521.73,383.15L522.09,383.15L522.44,383.15L522.79,383.15L523.15,383.15L523.50,383.15L523.86,383.15L524.21,383.15L524.57,383.15L524.92,383.15L525.27,383.15L525.63,383.15L525.98,383.15L526.34,383.15L526.69,383.15L527.05,383.15L527.40,383.15L527.76,383.15L528.11,383.15L528.46,383.15L528.82,383.15L529.17,383.15L529.53,383.15L529.88,383.15" fill="none" stroke="#f0b020" stroke-width="1.0" stroke-linejoin="round"/>
<path d="M57.50,383.15L58.21,385.01L58.92,385.19L59.63,385.16L60.34,385.09L61.04,385.03L61.75,384.97L62.46,384.91L63.17,384.85L63.88,384.80L64.59,384.74L65.30,384.69L66.00,384.64L66.71,384.59L67.42,384.54L68.13,384.50L68.84,384.45L69.55,384.41L70.26,384.37L70.97,384.33L71.67,384.29L72.38,384.25L73.09,384.22L73.80,384.18L74.51,384.15L75.22,384.12L75.93,384.08L76.64,384.05L77.34,384.02L78.05,384.00L78.76,383.97L79.47,383.94L80.18,383.92L80.89,383.89L81.60,383.87L82.31,383.84L83.02,383.82L83.72,383.80L84.43,383.78L85.14,383.76L85.85,383.74L86.56,383.72L87.27,383.70L87.98,383.68L88.69,383.66L89.39,383.65L90.10,383.63L90.81,383.61L91.52,383.60L92.23,383.58L92.94,383.57L93.65,383.56L94.35,383.54L95.06,383.53L95.77,383.52L96.48,383.51L97.19,383.49L97.90,383.48L98.61,383.47L99.32,383.46L100.03,383.45L100.73,383.44L101.44,383.43L102.15,383.42L102.86,383.41L103.57,383.40L104.28,383.40L104.99,383.39L105.69,383.38L106.40,383.37L107.11,383.37L107.82,383.36L108.53,383.35L109.24,383.35L109.95,383.34L110.66,383.33L111.37,383.33L112.07,383.32L112.78,383.32L113.49,383.31L114.20,383.30L114.91,383.30L115.62,383.29L116.33,383.29L117.03,383.29L117.74,383.28L118.45,383.28L119.16,383.27L119.87,383.27L120.58,383.26L121.29,383.26L122.00,383.26L122.70,383.25L123.41,383.25L124.12,383.25L124.83,383.24L125.54,383.24L126.25,383.24L126.96,383.23L127.67,383.23L128.38,383.23L129.08,383.23L129.79,383.22L130.50,383.22L131.21,383.22L131.92,383.22L132.63,383.21L133.34,383.21L134.05,383.21L134.75,383.21L135.46,383.21L136.17,383.20L136.88,383.20L137.59,383.20L138.30,383.20L139.01,383.20L139.72,383.20L140.42,383.19L141.13,383.19L141.84,383.19L142.55,383.19L143.26,383.19L143.97,383.19L144.68,383.19L145.38,383.19L146.09,383.18L146.80,383.18L147.51,383.18L148.22,383.18L148.93,383.18L149.64,383.18L150.35,383.18L151.06,383.18L151.76,383.18L152.47,384.78L153.18,385.20L153.89,385.20L154.60,385.14L155.31,385.07L156.02,385.01L156.72,384.95L157.43,384.89L158.14,384.83L158.85,384.78L159.56,384.73L160.27,384.67L160.98,384.62L161.69,384.58L162.39,384.53L163.10,384.48L163.81,384.44L164.52,384.40L165.23,384.36L165.94,384.32L166.65,384.28L167.36,384.24L168.06,384.21L168.77,384.17L169.48,384.14L170.19,384.11L170.90,384.07L171.61,384.04L172.32,384.02L173.03,383.99L173.73,383.96L174.44,383.93L175.15,383.91L175.86,383.88L176.57,383.86L177.28,383.83L177.99,383.81L178.70,383.79L179.41,383.77L180.11,383.75L180.82,383.73L181.53,383.71L182.24,383.69L182.95,383.67L183.66,383.66L184.37,383.64L185.07,383.62L185.78,383.61L186.49,383.59L187.20,383.58L187.91,383.57L188.62,383.55L189.33,383.54L190.04,383.53L190.75,383.51L191.45,383.50L192.16,383.49L192.87,383.48L193.58,383.47L194.29,383.46L195.00,383.45L195.71,383.44L196.41,383.43L197.12,383.42L197.83,383.41L198.54,383.40L199.25,383.39L199.96,383.39L200.67,383.38L201.38,383.37L202.08,383.36L202.79,383.36L203.50,383.35L204.21,383.34L204.92,383.34L205.63,383.33L206.34,383.32L207.05,383.32L207.75,383.31L208.46,383.31L209.17,383.30L209.88,383.30L210.59,383.29L211.30,383.29L212.01,383.28L212.72,383.28L213.43,383.28L214.13,383.27L214.84,383.27L215.55,383.26L216.26,383.26L216.97,383.26L217.68,383.25L218.39,383.25L219.09,383.25L219.80,383.24L220.51,383.24L221.22,383.24L221.93,383.23L222.64,383.23L223.35,383.23L224.06,383.23L224.76,383.22L225.47,383.22L226.18,383.22L226.89,383.22L227.60,383.21L228.31,383.21L229.02,383.21L229.73,383.21L230.44,383.21L231.14,383.20L231.85,383.20L232.56,383.20L233.27,383.20L233.98,383.20L234.69,383.20L235.40,383.19L236.10,383.19L236.81,383.19L237.52,383.19L238.23,383.19L238.94,383.19L239.65,383.19L240.36,383.19L241.07,383.18L241.78,383.18L242.48,383.18L243.19,383.18L243.90,383.18L244.61,383.18L245.32,383.18L246.03,383.18L246.74,386.39L247.44,389.11L248.15,389.29L248.86,389.13L249.57,388.94L250.28,388.75L250.99,388.57L251.70,388.39L252.41,388.22L253.12,388.06L253.82,387.89L254.53,387.74L255.24,387.59L255.95,387.44L256.66,387.30L257.37,387.17L258.08,387.03L258.78,386.91L259.49,386.78L260.20,386.66L260.91,386.55L261.62,386.44L262.33,386.33L263.04,386.23L263.75,386.13L264.46,386.03L265.16,385.93L265.87,385.84L266.58,385.75L267.29,385.67L268.00,385.59L268.71,385.51L269.42,385.43L270.12,385.35L270.83,385.28L271.54,385.21L272.25,385.14L272.96,385.08L273.67,385.02L274.38,384.95L275.09,384.90L275.79,384.84L276.50,384.78L277.21,384.73L277.92,384.68L278.63,384.63L279.34,384.58L280.05,384.53L280.76,384.49L281.47,384.44L282.17,384.40L282.88,384.36L283.59,384.32L284.30,384.28L285.01,384.24L285.72,384.21L286.43,384.17L287.13,384.14L287.84,384.11L288.55,384.08L289.26,384.05L289.97,384.02L290.68,383.99L291.39,383.96L292.10,383.93L292.81,383.91L293.51,383.88L294.22,383.86L294.93,383.84L295.64,383.81L296.35,383.79L297.06,383.77L297.77,383.75L298.48,383.73L299.18,383.71L299.89,383.69L300.60,383.68L301.31,383.66L302.02,383.64L302.73,383.63L303.44,383.61L304.14,383.59L304.85,383.58L305.56,383.57L306.27,383.55L306.98,383.54L307.69,383.53L308.40,383.51L309.11,383.50L309.81,383.49L310.52,383.48L311.23,383.47L311.94,383.46L312.65,383.45L313.36,383.44L314.07,383.43L314.78,383.42L315.49,383.41L316.19,383.40L316.90,383.39L317.61,383.39L318.32,383.38L319.03,383.37L319.74,383.36L320.45,383.36L321.15,383.35L321.86,383.34L322.57,383.34L323.28,383.33L323.99,383.32L324.70,383.32L325.41,383.31L326.12,383.31L326.82,383.30L327.53,383.30L328.24,383.29L328.95,383.29L329.66,383.28L330.37,383.28L331.08,383.28L331.79,383.27L332.49,383.27L333.20,383.26L333.91,383.26L334.62,383.26L335.33,383.25L336.04,383.25L336.75,383.25L337.46,383.24L338.17,383.24L338.87,383.24L339.58,383.23L340.29,383.23L341.00,383.23L341.71,376.72L342.42,376.08L343.13,376.20L343.83,376.41L344.54,376.63L345.25,376.84L345.96,377.05L346.67,377.25L347.38,377.44L348.09,377.63L348.80,377.81L349.50,377.99L350.21,378.16L350.92,378.32L351.63,378.48L352.34,378.63L353.05,378.78L353.76,378.92L354.47,379.06L355.18,379.20L355.88,379.33L356.59,379.45L357.30,379.57L358.01,379.69L358.72,379.80L359.43,379.91L360.14,380.02L360.85,380.12L361.55,380.22L362.26,380.32L362.97,380.41L363.68,380.50L364.39,380.59L365.10,380.67L365.81,380.75L366.51,380.83L367.22,380.91L367.93,380.98L368.64,381.05L369.35,381.12L370.06,381.19L370.77,381.25L371.48,381.31L372.18,381.37L372.89,381.43L373.60,381.49L374.31,381.54L375.02,381.60L375.73,381.65L376.44,381.70L377.15,381.74L377.86,381.79L378.56,381.83L379.27,381.88L379.98,381.92L380.69,381.96L381.40,382.00L382.11,382.04L382.82,382.07L383.52,382.11L384.23,382.14L384.94,382.17L385.65,382.21L386.36,382.24L387.07,382.27L387.78,382.30L388.49,382.32L389.19,382.35L389.90,382.38L390.61,382.40L391.32,382.43L392.03,382.45L392.74,382.47L393.45,382.50L394.16,382.52L394.86,382.54L395.57,382.56L396.28,382.58L396.99,382.60L397.70,382.61L398.41,382.63L399.12,382.65L399.83,382.67L400.54,382.68L401.24,382.70L401.95,382.71L402.66,382.73L403.37,382.74L404.08,382.75L404.79,382.77L405.50,382.78L406.20,382.79L406.91,382.80L407.62,382.81L408.33,382.83L409.04,382.84L409.75,382.85L410.46,382.86L411.17,382.87L411.88,382.88L412.58,382.88L413.29,382.89L414.00,382.90L414.71,382.91L415.42,382.92L416.13,382.93L416.84,382.93L417.55,382.94L418.25,382.95L418.96,382.95L419.67,382.96L420.38,382.97L421.09,382.97L421.80,382.98L422.51,382.98L423.21,382.99L423.92,382.99L424.63,383.00L425.34,383.00L426.05,383.01L426.76,383.01L427.47,383.02L428.18,383.02L428.88,383.03L429.59,383.03L430.30,383.03L431.01,383.04L431.72,383.04L432.43,383.05L433.14,383.05L433.85,383.05L434.56,383.06L435.26,383.06L435.97,382.26L436.68,382.05L437.39,382.06L438.10,382.09L438.81,382.12L439.52,382.15L440.23,382.19L440.93,382.22L441.64,382.25L442.35,382.28L443.06,382.31L443.77,382.34L444.48,382.36L445.19,382.39L445.89,382.41L446.60,382.44L447.31,382.46L448.02,382.48L448.73,382.50L449.44,382.53L450.15,382.55L450.86,382.57L451.56,382.59L452.27,382.60L452.98,382.62L453.69,382.64L454.40,382.66L455.11,382.67L455.82,382.69L456.53,382.70L457.24,382.72L457.94,382.73L458.65,382.75L459.36,382.76L460.07,382.77L460.78,382.78L461.49,382.80L462.20,382.81L462.90,382.82L463.61,382.83L464.32,382.84L465.03,382.85L465.74,382.86L466.45,382.87L467.16,382.88L467.87,382.89L468.57,382.90L469.28,382.90L469.99,382.91L470.70,382.92L471.41,382.93L472.12,382.94L472.83,382.94L473.54,382.95L474.25,382.96L474.95,382.96L475.66,382.97L476.37,382.97L477.08,382.98L477.79,382.99L478.50,382.99L479.21,383.00L479.91,383.00L480.62,383.01L481.33,383.01L482.04,383.02L482.75,383.02L483.46,383.02L484.17,383.03L484.88,383.03L485.58,383.04L486.29,383.04L487.00,383.04L487.71,383.05L488.42,383.05L489.13,383.05L489.84,383.06L490.55,383.06L491.25,383.06L491.96,383.07L492.67,383.07L493.38,383.07L494.09,383.07L494.80,383.08L495.51,383.08L496.22,383.08L496.93,383.08L497.63,383.09L498.34,383.09L499.05,383.09L499.76,383.09L500.47,383.09L501.18,383.10L501.89,383.10L502.60,383.10L503.30,383.10L504.01,383.10L504.72,383.10L505.43,383.11L506.14,383.11L506.85,383.11L507.56,383.11L508.26,383.11L508.97,383.11L509.68,383.11L510.39,383.11L511.10,383.12L511.81,383.12L512.52,383.12L513.23,383.12L513.93,383.12L514.64,383.12L515.35,383.12L516.06,383.12L516.77,383.12L517.48,383.12L518.19,383.13L518.90,383.13L519.61,383.13L520.31,383.13L521.02,383.13L521.73,383.13L522.44,383.13L523.15,383.13L523.86,383.13L524.57,383.13L525.27,383.13L525.98,383.13L526.69,383.13L527.40,383.13L528.11,383.13L528.82,383.14L529.53,383.14" fill="none" stroke="#001880" stroke-width="2.7" stroke-linejoin="round"/>
<g clip-path="url(#cpi)">
<path d="M57.50,383.15L57.85,389.13L58.21,394.44L58.56,398.48L58.92,400.81L59.27,401.20L59.63,400.27L59.98,398.29L60.34,395.39L60.69,391.73L61.04,387.57L61.40,383.14L61.75,378.75L62.11,374.66L62.46,371.12L62.82,368.37L63.17,366.57L63.52,365.85L63.88,366.18L64.23,367.46L64.59,369.60L64.94,372.47L65.30,375.89L65.65,379.64L66.00,383.49L66.36,387.19L66.71,390.51L67.07,393.25L67.42,395.22L67.78,396.31L68.13,396.45L68.49,395.76L68.84,394.31L69.19,392.19L69.55,389.53L69.90,386.51L70.26,383.30L70.61,380.12L70.97,377.16L71.32,374.62L71.67,372.64L72.03,371.36L72.38,370.85L72.74,371.12L73.09,372.07L73.45,373.64L73.80,375.74L74.16,378.24L74.51,380.98L74.86,383.78L75.22,386.47L75.57,388.88L75.93,390.85L76.28,392.27L76.64,393.05L76.99,393.14L77.34,392.61L77.70,391.53L78.05,389.96L78.41,388.00L78.76,385.77L79.12,383.42L79.47,381.08L79.83,378.92L80.18,377.06L80.53,375.62L80.89,374.69L81.24,374.34L81.60,374.54L81.95,375.23L82.31,376.38L82.66,377.90L83.02,379.70L83.37,381.67L83.72,383.68L84.08,385.61L84.43,387.33L84.79,388.74L85.14,389.75L85.50,390.30L85.85,390.35L86.20,389.90L86.56,389.07L86.91,387.91L87.27,386.50L87.62,384.93L87.98,383.30L88.33,381.72L88.69,380.27L89.04,379.06L89.39,378.15L89.75,377.59L90.10,377.41L90.46,377.60L90.81,378.10L91.17,378.88L91.52,379.89L91.87,381.05L92.23,382.30L92.58,383.55L92.94,384.73L93.29,385.76L93.65,386.58L94.00,387.15L94.35,387.43L94.71,387.42L95.06,387.15L95.42,386.65L95.77,385.96L96.13,385.12L96.48,384.19L96.84,383.23L97.19,382.29L97.54,381.44L97.90,380.72L98.25,380.19L98.61,379.86L98.96,379.77L99.32,379.88L99.67,380.18L100.03,380.65L100.38,381.25L100.73,381.94L101.09,382.67L101.44,383.41L101.80,384.11L102.15,384.72L102.51,385.20L102.86,385.53L103.21,385.70L103.57,385.69L103.92,385.52L104.28,385.22L104.63,384.81L104.99,384.31L105.34,383.76L105.69,383.19L106.05,382.64L106.40,382.13L106.76,381.71L107.11,381.40L107.47,381.21L107.82,381.16L108.18,381.23L108.53,381.41L108.88,381.69L109.24,382.05L109.59,382.46L109.95,382.90L110.30,383.34L110.66,383.75L111.01,384.11L111.37,384.40L111.72,384.59L112.07,384.68L112.43,384.67L112.78,384.57L113.14,384.39L113.49,384.14L113.85,383.84L114.20,383.51L114.55,383.17L114.91,382.84L115.26,382.54L115.62,382.29L115.97,382.10L116.33,381.99L116.68,381.96L117.03,382.00L117.39,382.11L117.74,382.28L118.10,382.50L118.45,382.74L118.81,383.01L119.16,383.27L119.52,383.51L119.87,383.73L120.22,383.90L120.58,384.01L120.93,384.07L121.29,384.06L121.64,384.00L122.00,383.89L122.35,383.74L122.70,383.56L123.06,383.36L123.41,383.16L123.77,382.96L124.12,382.78L124.48,382.63L124.83,382.52L125.19,382.45L125.54,382.44L125.89,382.47L126.25,382.53L126.60,382.63L126.96,382.76L127.31,382.91L127.67,383.07L128.02,383.23L128.38,383.37L128.73,383.50L129.08,383.60L129.44,383.67L129.79,383.70L130.15,383.69L130.50,383.66L130.86,383.59L131.21,383.50L131.56,383.39L131.92,383.27L132.27,383.15L132.63,383.03L132.98,382.93L133.34,382.84L133.69,382.77L134.05,382.73L134.40,382.72L134.75,382.74L135.11,382.78L135.46,382.84L135.82,382.92L136.17,383.01L136.53,383.10L136.88,383.20L137.23,383.28L137.59,383.36L137.94,383.42L138.30,383.46L138.65,383.48L139.01,383.47L139.36,383.45L139.72,383.41L140.07,383.36L140.42,383.29L140.78,383.22L141.13,383.15L141.49,383.08L141.84,383.01L142.20,382.96L142.55,382.92L142.90,382.90L143.26,382.90L143.61,382.91L143.97,382.93L144.32,382.97L144.68,383.01L145.03,383.07L145.38,383.12L145.74,383.18L146.09,383.23L146.45,383.28L146.80,383.31L147.16,383.34L147.51,383.35L147.87,383.34L148.22,383.33L148.57,383.31L148.93,383.27L149.28,383.23L149.64,383.19L149.99,383.15L150.35,383.11L150.70,383.07L151.06,383.04L151.41,383.01L151.76,383.00L152.12,385.07L152.47,391.03L152.83,396.09L153.18,399.70L153.54,401.44L153.89,401.34L154.24,400.06L154.60,397.74L154.95,394.52L155.31,390.62L155.66,386.27L156.02,381.74L156.37,377.33L156.72,373.31L157.08,369.94L157.43,367.42L157.79,365.92L158.14,365.53L158.50,366.18L158.85,367.76L159.21,370.19L159.56,373.31L159.91,376.92L160.27,380.80L160.62,384.70L160.98,388.37L161.33,391.59L161.69,394.15L162.04,395.89L162.39,396.69L162.75,396.56L163.10,395.61L163.46,393.91L163.81,391.56L164.17,388.72L164.52,385.55L164.88,382.28L165.23,379.09L165.58,376.19L165.94,373.76L166.29,371.96L166.65,370.89L167.00,370.63L167.36,371.12L167.71,372.30L168.06,374.09L168.42,376.37L168.77,379.01L169.13,381.84L169.48,384.67L169.84,387.34L170.19,389.67L170.55,391.52L170.90,392.77L171.25,393.34L171.61,393.22L171.96,392.50L172.32,391.23L172.67,389.50L173.03,387.40L173.38,385.07L173.73,382.66L174.09,380.32L174.44,378.20L174.80,376.42L175.15,375.12L175.51,374.35L175.86,374.18L176.22,374.55L176.57,375.41L176.92,376.70L177.28,378.35L177.63,380.26L177.99,382.29L178.34,384.33L178.70,386.24L179.05,387.91L179.41,389.23L179.76,390.11L180.11,390.50L180.47,390.39L180.82,389.82L181.18,388.87L181.53,387.60L181.89,386.10L182.24,384.45L182.59,382.77L182.95,381.17L183.30,379.73L183.66,378.55L184.01,377.70L184.37,377.23L184.72,377.16L185.07,377.46L185.43,378.07L185.78,378.96L186.14,380.08L186.49,381.34L186.85,382.67L187.20,383.99L187.56,385.20L187.91,386.25L188.26,387.06L188.62,387.58L188.97,387.79L189.33,387.69L189.68,387.33L190.04,386.73L190.39,385.93L190.75,384.98L191.10,383.95L191.45,382.90L191.81,381.89L192.16,381.00L192.52,380.27L192.87,379.74L193.23,379.45L193.58,379.42L193.93,379.60L194.29,379.99L194.64,380.56L195.00,381.26L195.35,382.05L195.71,382.88L196.06,383.71L196.41,384.47L196.77,385.12L197.12,385.62L197.48,385.94L197.83,386.07L198.19,386.00L198.54,385.77L198.90,385.39L199.25,384.89L199.60,384.29L199.96,383.64L200.31,382.99L200.67,382.36L201.02,381.80L201.38,381.34L201.73,381.02L202.08,380.84L202.44,380.82L202.79,380.95L203.15,381.19L203.50,381.55L203.86,381.99L204.21,382.49L204.57,383.02L204.92,383.54L205.27,384.01L205.63,384.42L205.98,384.73L206.34,384.93L206.69,385.01L207.05,384.96L207.40,384.81L207.75,384.57L208.11,384.25L208.46,383.87L208.82,383.46L209.17,383.04L209.53,382.64L209.88,382.29L210.24,382.00L210.59,381.80L210.94,381.69L211.30,381.68L211.65,381.76L212.01,381.92L212.36,382.15L212.72,382.43L213.07,382.74L213.43,383.08L213.78,383.40L214.13,383.70L214.49,383.96L214.84,384.15L215.20,384.28L215.55,384.32L215.91,384.29L216.26,384.20L216.61,384.04L216.97,383.84L217.32,383.60L217.68,383.34L218.03,383.07L218.39,382.82L218.74,382.60L219.09,382.42L219.45,382.29L219.80,382.23L220.16,382.22L220.51,382.27L220.87,382.37L221.22,382.52L221.58,382.70L221.93,382.90L222.28,383.11L222.64,383.32L222.99,383.50L223.35,383.67L223.70,383.79L224.06,383.87L224.41,383.89L224.76,383.87L225.12,383.81L225.47,383.71L225.83,383.58L226.18,383.43L226.54,383.26L226.89,383.10L227.25,382.94L227.60,382.80L227.95,382.69L228.31,382.61L228.66,382.56L229.02,382.56L229.37,382.60L229.73,382.66L230.08,382.75L230.44,382.87L230.79,383.00L231.14,383.13L231.50,383.26L231.85,383.38L232.21,383.48L232.56,383.56L232.92,383.60L233.27,383.62L233.62,383.61L233.98,383.57L234.33,383.50L234.69,383.42L235.04,383.32L235.40,383.22L235.75,383.11L236.10,383.01L236.46,382.92L236.81,382.85L237.17,382.80L237.52,382.78L237.88,382.78L238.23,382.80L238.59,382.84L238.94,382.90L239.29,382.97L239.65,383.05L240.00,383.14L240.36,383.22L240.71,383.30L241.07,383.36L241.42,383.41L241.78,383.44L242.13,383.45L242.48,383.44L242.84,383.41L243.19,383.37L243.55,383.32L243.90,383.26L244.26,383.19L244.61,383.12L244.96,383.06L245.32,383.01L245.67,382.96L246.03,382.93L246.38,382.92L246.74,395.64L247.09,413.35L247.44,427.67L247.80,436.97L248.15,440.23L248.51,438.52L248.86,433.40L249.22,425.19L249.57,414.42L249.93,401.75L250.28,387.99L250.63,374.00L250.99,360.66L251.34,348.82L251.70,339.22L252.05,332.47L252.41,328.99L252.76,328.93L253.12,331.96L253.47,337.81L253.82,346.13L254.18,356.38L254.53,367.93L254.89,380.05L255.24,391.96L255.60,402.93L255.95,412.26L256.30,419.36L256.66,423.79L257.01,425.26L257.37,423.95L257.72,420.18L258.08,414.17L258.43,406.32L258.78,397.11L259.14,387.13L259.49,377.00L259.85,367.36L260.20,358.82L260.56,351.92L260.91,347.09L261.27,344.64L261.62,344.67L261.97,346.93L262.33,351.25L262.68,357.35L263.04,364.85L263.39,373.28L263.75,382.11L264.10,390.77L264.46,398.73L264.81,405.49L265.16,410.61L265.52,413.77L265.87,414.78L266.23,413.77L266.58,410.94L266.94,406.49L267.29,400.69L267.64,393.90L268.00,386.56L268.35,379.12L268.71,372.05L269.06,365.81L269.42,360.78L269.77,357.28L270.12,355.53L270.48,355.59L270.83,357.26L271.19,360.40L271.54,364.82L271.90,370.24L272.25,376.31L272.61,382.65L272.96,388.87L273.31,394.57L273.67,399.40L274.02,403.04L274.38,405.28L274.73,405.96L275.09,405.19L275.44,403.12L275.79,399.89L276.15,395.69L276.50,390.78L276.86,385.49L277.21,380.14L277.57,375.06L277.92,370.59L278.28,366.99L278.63,364.51L278.98,363.28L279.34,363.36L279.69,364.60L280.05,366.91L280.40,370.13L280.76,374.06L281.11,378.47L281.47,383.06L281.82,387.56L282.17,391.67L282.53,395.14L282.88,397.75L283.24,399.34L283.59,399.80L283.95,399.21L284.30,397.68L284.65,395.31L285.01,392.23L285.36,388.65L285.72,384.80L286.07,380.90L286.43,377.22L286.78,373.98L287.13,371.38L287.49,369.60L287.84,368.73L288.20,368.82L288.55,369.74L288.91,371.44L289.26,373.80L289.62,376.67L289.97,379.88L290.32,383.22L290.68,386.49L291.03,389.47L291.39,391.98L291.74,393.86L292.10,394.99L292.45,395.30L292.81,394.86L293.16,393.73L293.51,391.98L293.87,389.73L294.22,387.12L294.58,384.31L294.93,381.48L295.29,378.81L295.64,376.47L295.99,374.59L296.35,373.31L296.70,372.70L297.06,372.78L297.41,373.47L297.77,374.73L298.12,376.46L298.48,378.58L298.83,380.93L299.18,383.37L299.54,385.76L299.89,387.93L300.25,389.75L300.60,391.11L300.96,391.93L301.31,392.14L301.66,391.80L302.02,390.95L302.37,389.65L302.73,387.98L303.08,386.05L303.44,383.98L303.79,381.89L304.14,379.93L304.50,378.21L304.85,376.84L305.21,375.91L305.56,375.47L305.92,375.54L306.27,376.06L306.63,376.99L306.98,378.28L307.33,379.84L307.69,381.57L308.04,383.36L308.40,385.11L308.75,386.70L309.11,388.03L309.46,389.02L309.81,389.61L310.17,389.75L310.52,389.49L310.88,388.86L311.23,387.89L311.59,386.66L311.94,385.24L312.30,383.72L312.65,382.19L313.00,380.75L313.36,379.49L313.71,378.49L314.07,377.81L314.42,377.51L314.78,377.57L315.13,377.96L315.49,378.65L315.84,379.60L316.19,380.75L316.55,382.02L316.90,383.34L317.26,384.62L317.61,385.79L317.97,386.76L318.32,387.48L318.67,387.90L319.03,388.00L319.38,387.80L319.74,387.32L320.09,386.61L320.45,385.70L320.80,384.66L321.15,383.54L321.51,382.41L321.86,381.36L322.22,380.44L322.57,379.71L322.93,379.22L323.28,379.00L323.64,379.05L323.99,379.35L324.34,379.86L324.70,380.56L325.05,381.41L325.41,382.35L325.76,383.32L326.12,384.26L326.47,385.11L326.82,385.82L327.18,386.34L327.53,386.65L327.89,386.71L328.24,386.56L328.60,386.20L328.95,385.68L329.31,385.00L329.66,384.23L330.01,383.41L330.37,382.58L330.72,381.81L331.08,381.14L331.43,380.61L331.79,380.26L332.14,380.10L332.49,380.14L332.85,380.37L333.20,380.75L333.56,381.27L333.91,381.89L334.27,382.58L334.62,383.29L334.98,383.98L335.33,384.61L335.68,385.12L336.04,385.50L336.39,385.72L336.75,385.76L337.10,385.65L337.46,385.38L337.81,384.99L338.17,384.50L338.52,383.93L338.87,383.32L339.23,382.72L339.58,382.15L339.94,381.66L340.29,381.27L340.65,381.02L341.00,380.91L341.35,358.91L341.71,339.51L342.06,324.90L342.42,316.73L342.77,315.75L343.13,319.67L343.48,327.48L343.83,338.69L344.19,352.61L344.54,368.34L344.90,384.90L345.25,401.26L345.61,416.37L345.96,429.30L346.32,439.24L346.67,445.57L347.02,447.88L347.38,446.23L347.73,441.08L348.09,432.74L348.44,421.75L348.80,408.79L349.15,394.69L349.50,380.33L349.86,366.62L350.21,354.41L350.57,344.46L350.92,337.40L351.28,333.67L351.63,333.47L351.99,336.39L352.34,342.13L352.69,350.31L353.05,360.44L353.40,371.86L353.76,383.87L354.11,395.70L354.47,406.61L354.82,415.93L355.18,423.06L355.53,427.57L355.88,429.16L356.24,427.89L356.59,424.06L356.95,417.93L357.30,409.88L357.66,400.42L358.01,390.14L358.36,379.68L358.72,369.72L359.07,360.87L359.43,353.68L359.78,348.60L360.14,345.95L360.49,345.88L360.85,348.08L361.20,352.35L361.55,358.40L361.91,365.87L362.26,374.28L362.62,383.11L362.97,391.79L363.33,399.78L363.68,406.58L364.03,411.77L364.39,415.03L364.74,416.14L365.10,415.17L365.45,412.37L365.81,407.92L366.16,402.09L366.51,395.27L366.87,387.87L367.22,380.36L367.58,373.21L367.93,366.87L368.29,361.74L368.64,358.14L369.00,356.29L369.35,356.29L369.70,357.92L370.06,361.03L370.41,365.43L370.77,370.83L371.12,376.90L371.48,383.26L371.83,389.50L372.18,395.23L372.54,400.10L372.89,403.81L373.25,406.11L373.60,406.86L373.96,406.12L374.31,404.06L374.67,400.80L375.02,396.57L375.37,391.61L375.73,386.24L376.08,380.81L376.44,375.65L376.79,371.08L377.15,367.40L377.50,364.83L377.86,363.53L378.21,363.56L378.56,364.78L378.92,367.07L379.27,370.29L379.63,374.24L379.98,378.67L380.34,383.30L380.69,387.83L381.04,391.99L381.40,395.51L381.75,398.18L382.11,399.83L382.46,400.34L382.82,399.78L383.17,398.25L383.52,395.86L383.88,392.76L384.23,389.14L384.59,385.24L384.94,381.29L385.30,377.54L385.65,374.24L386.01,371.58L386.36,369.73L386.71,368.81L387.07,368.86L387.42,369.77L387.78,371.46L388.13,373.82L388.49,376.70L388.84,379.93L389.19,383.30L389.55,386.59L389.90,389.61L390.26,392.15L390.61,394.07L390.97,395.25L391.32,395.60L391.68,395.17L392.03,394.03L392.38,392.27L392.74,389.99L393.09,387.34L393.45,384.48L393.80,381.59L394.16,378.86L394.51,376.45L394.86,374.52L395.22,373.19L395.57,372.54L395.93,372.59L396.28,373.28L396.64,374.54L396.99,376.29L397.35,378.42L397.70,380.81L398.05,383.29L398.41,385.71L398.76,387.93L399.12,389.80L399.47,391.20L399.83,392.05L400.18,392.29L400.54,391.96L400.89,391.11L401.24,389.81L401.60,388.13L401.95,386.17L402.31,384.07L402.66,381.95L403.02,379.95L403.37,378.19L403.72,376.78L404.08,375.81L404.43,375.35L404.79,375.40L405.14,375.92L405.50,376.85L405.85,378.15L406.20,379.72L406.56,381.48L406.91,383.30L407.27,385.08L407.62,386.70L407.98,388.06L408.33,389.08L408.69,389.70L409.04,389.86L409.39,389.61L409.75,388.98L410.10,388.01L410.46,386.77L410.81,385.33L411.17,383.78L411.52,382.23L411.88,380.76L412.23,379.48L412.58,378.45L412.94,377.75L413.29,377.42L413.65,377.47L414.00,377.85L414.36,378.55L414.71,379.51L415.06,380.67L415.42,381.96L415.77,383.30L416.13,384.60L416.48,385.79L416.84,386.78L417.19,387.52L417.55,387.97L417.90,388.08L418.25,387.88L418.61,387.41L418.96,386.70L419.32,385.78L419.67,384.72L420.03,383.58L420.38,382.44L420.73,381.51L421.09,380.56L421.44,379.80L421.80,379.28L422.15,379.02L422.51,379.03L422.86,379.29L423.21,379.77L423.57,380.45L423.92,381.28L424.28,382.20L424.63,383.17L424.99,384.12L425.34,384.99L425.70,385.72L426.05,386.28L426.40,386.61L426.76,386.71L427.11,386.59L427.47,386.27L427.82,385.77L428.18,385.11L428.53,384.35L428.88,383.54L429.24,382.71L429.59,381.92L429.95,381.23L430.30,380.68L430.66,380.30L431.01,380.11L431.37,380.13L431.72,380.32L432.07,380.68L432.43,381.18L432.78,381.79L433.14,382.47L433.49,383.19L433.85,383.88L434.20,384.52L434.56,385.05L434.91,385.46L435.26,385.70L435.62,384.70L435.97,381.54L436.33,378.69L436.68,376.47L437.04,375.11L437.39,374.62L437.74,374.69L438.10,375.30L438.45,376.40L438.81,377.92L439.16,379.77L439.52,381.83L439.87,383.98L440.23,386.06L440.58,387.94L440.93,389.50L441.29,390.63L441.64,391.27L442.00,391.43L442.35,391.12L442.71,390.37L443.06,389.21L443.41,387.73L443.77,386.02L444.12,384.18L444.48,382.33L444.83,380.61L445.19,379.11L445.54,377.95L445.89,377.18L446.25,376.85L446.60,376.91L446.96,377.35L447.31,378.15L447.67,379.25L448.02,380.59L448.38,382.09L448.73,383.64L449.08,385.15L449.44,386.51L449.79,387.63L450.15,388.44L450.50,388.90L450.86,389.01L451.21,388.78L451.56,388.23L451.92,387.38L452.27,386.30L452.63,385.05L452.98,383.72L453.34,382.37L453.69,381.12L454.05,380.03L454.40,379.19L454.75,378.64L455.11,378.40L455.46,378.45L455.82,378.79L456.17,379.38L456.53,380.20L456.88,381.19L457.24,382.28L457.59,383.42L457.94,384.53L458.30,385.52L458.65,386.34L459.01,386.94L459.36,387.27L459.72,387.34L460.07,387.18L460.42,386.78L460.78,386.17L461.13,385.40L461.49,384.50L461.84,383.54L462.20,382.58L462.55,381.68L462.90,380.90L463.26,380.29L463.61,379.90L463.97,379.75L464.32,379.83L464.68,380.10L465.03,380.54L465.39,381.11L465.74,381.78L466.09,382.51L466.45,383.24L466.80,383.94L467.16,384.56L467.51,385.05L467.87,385.40L468.22,385.59L468.57,385.63L468.93,385.53L469.28,385.30L469.64,384.96L469.99,384.53L470.35,384.04L470.70,383.51L471.06,382.99L471.41,382.51L471.76,382.09L472.12,381.77L472.47,381.55L472.83,381.45L473.18,381.44L473.54,381.53L473.89,381.71L474.25,381.97L474.60,382.29L474.95,382.64L475.31,383.01L475.66,383.38L476.02,383.71L476.37,383.99L476.73,384.20L477.08,384.34L477.43,384.40L477.79,384.39L478.14,384.31L478.50,384.17L478.85,383.98L479.21,383.75L479.56,383.49L479.91,383.22L480.27,382.96L480.62,382.73L480.98,382.54L481.33,382.40L481.69,382.31L482.04,382.27L482.40,382.28L482.75,382.34L483.10,382.44L483.46,382.59L483.81,382.75L484.17,382.94L484.52,383.13L484.88,383.31L485.23,383.47L485.58,383.61L485.94,383.71L486.29,383.77L486.65,383.80L487.00,383.79L487.36,383.74L487.71,383.66L488.07,383.56L488.42,383.43L488.77,383.30L489.13,383.16L489.48,383.02L489.84,382.91L490.19,382.81L490.55,382.74L490.90,382.69L491.25,382.67L491.61,382.68L491.96,382.71L492.32,382.77L492.67,382.85L493.03,382.94L493.38,383.04L493.74,383.15L494.09,383.24L494.44,383.33L494.80,383.40L495.15,383.46L495.51,383.49L495.86,383.51L496.22,383.51L496.57,383.48L496.93,383.44L497.28,383.38L497.63,383.31L497.99,383.23L498.34,383.16L498.70,383.08L499.05,383.02L499.41,382.96L499.76,382.91L500.11,382.88L500.47,382.87L500.82,382.87L501.18,382.89L501.53,382.92L501.89,382.97L502.24,383.02L502.60,383.08L502.95,383.14L503.30,383.20L503.66,383.25L504.01,383.30L504.37,383.34L504.72,383.36L505.08,383.37L505.43,383.37L505.78,383.36L506.14,383.33L506.49,383.30L506.85,383.25L507.20,383.21L507.56,383.16L507.91,383.11L508.26,383.07L508.62,383.03L508.97,383.00L509.33,382.98L509.68,382.97L510.04,382.97L510.39,382.98L510.75,383.00L511.10,383.03L511.45,383.07L511.81,383.10L512.16,383.14L512.52,383.18L512.87,383.22L513.23,383.25L513.58,383.28L513.93,383.29L514.29,383.30L514.64,383.30L515.00,383.29L515.35,383.11L515.71,383.09L516.06,383.08L516.42,383.07L516.77,383.07L517.12,383.07L517.48,383.08L517.83,383.09L518.19,383.11L518.54,383.12L518.90,383.14L519.25,383.16L519.61,383.17L519.96,383.19L520.31,383.20L520.67,383.20L521.02,383.21L521.38,383.21L521.73,383.20L522.09,383.20L522.44,383.19L522.79,383.18L523.15,383.16L523.50,383.15L523.86,383.14L524.21,383.13L524.57,383.12L524.92,383.11L525.27,383.11L525.63,383.11L525.98,383.11L526.34,383.11L526.69,383.12L527.05,383.13L527.40,383.14L527.76,383.14L528.11,383.15L528.46,383.16L528.82,383.17L529.17,383.17L529.53,383.18L529.88,383.18" fill="none" stroke="#b850c4" stroke-width="1.3" stroke-linejoin="round"/>
<path d="M57.50,387.18L57.85,392.78L58.21,397.31L58.56,400.24L58.92,401.26L59.27,400.70L59.63,399.06L59.98,396.45L60.34,393.02L60.69,389.00L61.04,384.63L61.40,380.19L61.75,375.97L62.11,372.22L62.46,369.19L62.82,367.06L63.17,365.97L63.52,365.96L63.88,366.93L64.23,368.80L64.59,371.44L64.94,374.70L65.30,378.37L65.65,382.21L66.00,385.99L66.36,389.46L66.71,392.41L67.07,394.66L67.42,396.05L67.78,396.51L68.13,396.08L68.49,394.88L68.84,392.96L69.19,390.47L69.55,387.54L69.90,384.38L70.26,381.17L70.61,378.11L70.97,375.41L71.32,373.23L71.67,371.70L72.03,370.93L72.38,370.95L72.74,371.68L73.09,373.05L73.45,374.99L73.80,377.37L74.16,380.05L74.51,382.85L74.86,385.59L75.22,388.11L75.57,390.25L75.93,391.87L76.28,392.87L76.64,393.18L76.99,392.85L77.34,391.95L77.70,390.53L78.05,388.69L78.41,386.54L78.76,384.21L79.12,381.85L79.47,379.61L79.83,377.64L80.18,376.04L80.53,374.94L80.89,374.39L81.24,374.41L81.60,374.95L81.95,375.95L82.31,377.35L82.66,379.07L83.02,381.00L83.37,383.01L83.72,384.98L84.08,386.79L84.43,388.31L84.79,389.46L85.14,390.17L85.50,390.38L85.85,390.10L86.20,389.39L86.56,388.33L86.91,386.99L87.27,385.47L87.62,383.84L87.98,382.23L88.33,380.73L88.69,379.43L89.04,378.41L89.39,377.73L89.75,377.43L90.10,377.50L90.46,377.90L90.81,378.59L91.17,379.53L91.52,380.65L91.87,381.88L92.23,383.14L92.58,384.35L92.94,385.43L93.29,386.33L93.65,386.99L94.00,387.37L94.35,387.46L94.71,387.27L95.06,386.84L95.42,386.21L95.77,385.42L96.13,384.51L96.48,383.55L96.84,382.60L97.19,381.71L97.54,380.94L97.90,380.34L98.25,379.95L98.61,379.77L98.96,379.82L99.32,380.06L99.67,380.48L100.03,381.03L100.38,381.70L100.73,382.43L101.09,383.17L101.44,383.89L101.80,384.53L102.15,385.06L102.51,385.44L102.86,385.66L103.21,385.71L103.57,385.59L103.92,385.34L104.28,384.96L104.63,384.49L104.99,383.95L105.34,383.38L105.69,382.82L106.05,382.29L106.40,381.84L106.76,381.49L107.11,381.26L107.47,381.16L107.82,381.19L108.18,381.34L108.53,381.59L108.88,381.92L109.24,382.32L109.59,382.75L109.95,383.19L110.30,383.62L110.66,384.00L111.01,384.31L111.37,384.54L111.72,384.66L112.07,384.69L112.43,384.62L112.78,384.46L113.14,384.23L113.49,383.95L113.85,383.62L114.20,383.28L114.55,382.95L114.91,382.63L115.26,382.36L115.62,382.15L115.97,382.02L116.33,381.96L116.68,381.98L117.03,382.07L117.39,382.22L117.74,382.42L118.10,382.66L118.45,382.92L118.81,383.18L119.16,383.44L119.52,383.66L119.87,383.85L120.22,383.98L120.58,384.06L120.93,384.07L121.29,384.02L121.64,383.93L122.00,383.79L122.35,383.62L122.70,383.43L123.06,383.22L123.41,383.02L123.77,382.84L124.12,382.68L124.48,382.55L124.83,382.47L125.19,382.44L125.54,382.45L125.89,382.51L126.25,382.60L126.60,382.72L126.96,382.86L127.31,383.02L127.67,383.17L128.02,383.32L128.38,383.46L128.73,383.57L129.08,383.65L129.44,383.69L129.79,383.70L130.15,383.67L130.50,383.61L130.86,383.53L131.21,383.43L131.56,383.31L131.92,383.19L132.27,383.07L132.63,382.96L132.98,382.86L133.34,382.79L133.69,382.74L134.05,382.72L134.40,382.73L134.75,382.77L135.11,382.82L135.46,382.89L135.82,382.98L136.17,383.07L136.53,383.17L136.88,383.26L137.23,383.34L137.59,383.40L137.94,383.45L138.30,383.47L138.65,383.48L139.01,383.46L139.36,383.43L139.72,383.38L140.07,383.32L140.42,383.25L140.78,383.17L141.13,383.10L141.49,383.03L141.84,382.98L142.20,382.93L142.55,382.91L142.90,382.90L143.26,382.90L143.61,382.92L143.97,382.95L144.32,383.00L144.68,383.05L145.03,383.10L145.38,383.16L145.74,383.22L146.09,383.26L146.45,383.30L146.80,383.33L147.16,383.34L147.51,383.35L147.87,383.34L148.22,383.31L148.57,383.28L148.93,383.25L149.28,383.21L149.64,383.16L149.99,383.12L150.35,383.08L150.70,383.05L151.06,383.02L151.41,383.00L151.76,383.00L152.12,389.11L152.47,394.54L152.83,398.69L153.18,401.09L153.54,401.52L153.89,400.61L154.24,398.62L154.60,395.68L154.95,391.98L155.31,387.75L155.66,383.25L156.02,378.77L156.37,374.59L156.72,370.98L157.08,368.16L157.43,366.30L157.79,365.54L158.14,365.86L158.50,367.13L158.85,369.30L159.21,372.20L159.56,375.68L159.91,379.49L160.27,383.41L160.62,387.18L160.98,390.58L161.33,393.38L161.69,395.41L162.04,396.53L162.39,396.70L162.75,396.01L163.10,394.55L163.46,392.40L163.81,389.71L164.17,386.63L164.52,383.37L164.88,380.13L165.23,377.11L165.58,374.50L165.94,372.48L166.29,371.16L166.65,370.63L167.00,370.88L167.36,371.84L167.71,373.43L168.06,375.56L168.42,378.10L168.77,380.88L169.13,383.74L169.48,386.48L169.84,388.94L170.19,390.97L170.55,392.42L170.90,393.23L171.25,393.33L171.61,392.80L171.96,391.71L172.32,390.12L172.67,388.13L173.03,385.86L173.38,383.46L173.73,381.08L174.09,378.87L174.44,376.97L174.80,375.49L175.15,374.54L175.51,374.17L175.86,374.37L176.22,375.07L176.57,376.23L176.92,377.77L177.28,379.60L177.63,381.61L177.99,383.66L178.34,385.63L178.70,387.39L179.05,388.83L179.41,389.87L179.76,390.43L180.11,390.49L180.47,390.06L180.82,389.23L181.18,388.05L181.53,386.62L181.89,385.01L182.24,383.33L182.59,381.69L182.95,380.18L183.30,378.91L183.66,377.95L184.01,377.35L184.37,377.14L184.72,377.32L185.07,377.83L185.43,378.64L185.78,379.69L186.14,380.91L186.49,382.23L186.85,383.56L187.20,384.81L187.56,385.92L187.91,386.82L188.26,387.44L188.62,387.76L188.97,387.76L189.33,387.48L189.68,386.95L190.04,386.21L190.39,385.31L190.75,384.30L191.10,383.25L191.45,382.22L191.81,381.28L192.16,380.49L192.52,379.89L192.87,379.52L193.23,379.40L193.58,379.52L193.93,379.84L194.29,380.35L194.64,381.01L195.00,381.78L195.35,382.61L195.71,383.44L196.06,384.22L196.41,384.91L196.77,385.47L197.12,385.85L197.48,386.05L197.83,386.04L198.19,385.86L198.54,385.53L198.90,385.06L199.25,384.50L199.60,383.86L199.96,383.20L200.31,382.56L200.67,381.98L201.02,381.48L201.38,381.11L201.73,380.88L202.08,380.81L202.44,380.89L202.79,381.10L203.15,381.42L203.50,381.84L203.86,382.32L204.21,382.84L204.57,383.37L204.92,383.86L205.27,384.29L205.63,384.64L205.98,384.88L206.34,385.00L206.69,384.99L207.05,384.87L207.40,384.66L207.75,384.36L208.11,384.00L208.46,383.60L208.82,383.18L209.17,382.77L209.53,382.40L209.88,382.09L210.24,381.86L210.59,381.71L210.94,381.67L211.30,381.72L211.65,381.86L212.01,382.06L212.36,382.33L212.72,382.64L213.07,382.97L213.43,383.30L213.78,383.61L214.13,383.88L214.49,384.10L214.84,384.25L215.20,384.32L215.55,384.31L215.91,384.24L216.26,384.10L216.61,383.91L216.97,383.68L217.32,383.43L217.68,383.16L218.03,382.90L218.39,382.67L218.74,382.47L219.09,382.33L219.45,382.24L219.80,382.22L220.16,382.25L220.51,382.34L220.87,382.47L221.22,382.64L221.58,382.83L221.93,383.04L222.28,383.25L222.64,383.44L222.99,383.62L223.35,383.75L223.70,383.84L224.06,383.89L224.41,383.88L224.76,383.84L225.12,383.75L225.47,383.63L225.83,383.48L226.18,383.32L226.54,383.15L226.89,382.99L227.25,382.84L227.60,382.72L227.95,382.63L228.31,382.57L228.66,382.56L229.02,382.58L229.37,382.64L229.73,382.72L230.08,382.83L230.44,382.95L230.79,383.08L231.14,383.22L231.50,383.34L231.85,383.45L232.21,383.53L232.56,383.59L232.92,383.62L233.27,383.61L233.62,383.58L233.98,383.53L234.33,383.45L234.69,383.36L235.04,383.25L235.40,383.15L235.75,383.05L236.10,382.95L236.46,382.88L236.81,382.82L237.17,382.78L237.52,382.78L237.88,382.79L238.23,382.83L238.59,382.88L238.94,382.95L239.29,383.03L239.65,383.11L240.00,383.19L240.36,383.27L240.71,383.34L241.07,383.39L241.42,383.43L241.78,383.45L242.13,383.44L242.48,383.42L242.84,383.39L243.19,383.34L243.55,383.28L243.90,383.21L244.26,383.15L244.61,383.08L244.96,383.02L245.32,382.98L245.67,382.94L246.03,382.92L246.38,389.32L246.74,407.74L247.09,423.38L247.44,434.50L247.80,439.85L248.15,439.48L248.51,435.47L248.86,428.24L249.22,418.25L249.57,406.13L249.93,392.64L250.28,378.63L250.63,364.98L250.99,352.56L251.34,342.13L251.70,334.38L252.05,329.77L252.41,328.59L252.76,330.62L253.12,335.57L253.47,343.11L253.82,352.79L254.18,363.98L254.53,375.99L254.89,388.06L255.24,399.43L255.60,409.37L255.95,417.27L256.30,422.63L256.66,425.11L257.01,424.67L257.37,421.70L257.72,416.40L258.08,409.11L258.43,400.30L258.78,390.50L259.14,380.35L259.49,370.48L259.85,361.51L260.20,354.01L260.56,348.45L260.91,345.18L261.27,344.40L261.62,345.94L261.97,349.60L262.33,355.14L262.68,362.23L263.04,370.40L263.39,379.16L263.75,387.94L264.10,396.19L264.46,403.40L264.81,409.10L265.16,412.95L265.52,414.69L265.87,414.31L266.23,412.08L266.58,408.14L266.94,402.75L267.29,396.25L267.64,389.04L268.00,381.58L268.35,374.34L268.71,367.77L269.06,362.30L269.42,358.26L269.77,355.91L270.12,355.38L270.48,356.53L270.83,359.20L271.19,363.22L271.54,368.34L271.90,374.23L272.25,380.53L272.61,386.84L272.96,392.75L273.31,397.91L273.67,401.98L274.02,404.70L274.38,405.91L274.73,405.60L275.09,403.95L275.44,401.08L275.79,397.18L276.15,392.48L276.50,387.28L276.86,381.91L277.21,376.70L277.57,371.99L277.92,368.08L278.28,365.20L278.63,363.54L278.98,363.20L279.34,364.07L279.69,366.03L280.05,368.96L280.40,372.69L280.76,376.96L281.11,381.53L281.47,386.09L281.82,390.36L282.17,394.07L282.53,396.99L282.88,398.93L283.24,399.77L283.59,399.52L283.95,398.29L284.30,396.18L284.65,393.32L285.01,389.89L285.36,386.10L285.72,382.19L286.07,378.41L286.43,375.00L286.78,372.17L287.13,370.09L287.49,368.91L287.84,368.69L288.20,369.34L288.55,370.79L288.91,372.94L289.26,375.67L289.62,378.79L289.97,382.11L290.32,385.42L290.68,388.52L291.03,391.20L291.39,393.31L291.74,394.70L292.10,395.29L292.45,395.09L292.81,394.18L293.16,392.63L293.51,390.53L293.87,388.02L294.22,385.26L294.58,382.42L294.93,379.67L295.29,377.20L295.64,375.16L295.99,373.67L296.35,372.83L296.70,372.68L297.06,373.18L297.41,374.25L297.77,375.84L298.12,377.84L298.48,380.13L298.83,382.56L299.18,384.98L299.54,387.24L299.89,389.19L300.25,390.72L300.60,391.72L300.96,392.13L301.31,391.97L301.66,391.28L302.02,390.13L302.37,388.57L302.73,386.72L303.08,384.68L303.44,382.58L303.79,380.56L304.14,378.75L304.50,377.25L304.85,376.16L305.21,375.56L305.56,375.47L305.92,375.84L306.27,376.64L306.63,377.82L306.98,379.29L307.33,380.98L307.69,382.76L308.04,384.54L308.40,386.19L308.75,387.62L309.11,388.73L309.46,389.46L309.81,389.75L310.17,389.62L310.52,389.11L310.88,388.25L311.23,387.10L311.59,385.73L311.94,384.23L312.30,382.69L312.65,381.21L313.00,379.88L313.36,378.79L313.71,378.00L314.07,377.57L314.42,377.51L314.78,377.79L315.13,378.39L315.49,379.26L315.84,380.35L316.19,381.59L316.55,382.90L316.90,384.21L317.26,385.42L317.61,386.46L317.97,387.27L318.32,387.79L318.67,388.00L319.03,387.89L319.38,387.51L319.74,386.87L320.09,386.02L320.45,385.02L320.80,383.91L321.15,382.78L321.51,381.70L321.86,380.73L322.22,379.93L322.57,379.36L322.93,379.04L323.28,379.01L323.64,379.22L323.99,379.67L324.34,380.31L324.70,381.12L325.05,382.03L325.41,382.99L325.76,383.95L326.12,384.84L326.47,385.60L326.82,386.19L327.18,386.57L327.53,386.72L327.89,386.63L328.24,386.34L328.60,385.87L328.95,385.24L329.31,384.50L329.66,383.69L330.01,382.85L330.37,382.06L330.72,381.35L331.08,380.77L331.43,380.35L331.79,380.13L332.14,380.11L332.49,380.27L332.85,380.60L333.20,381.08L333.56,381.67L333.91,382.35L334.27,383.06L334.62,383.76L334.98,384.41L335.33,384.97L335.68,385.39L336.04,385.67L336.39,385.77L336.75,385.70L337.10,385.49L337.46,385.14L337.81,384.67L338.17,384.12L338.52,383.53L338.87,382.92L339.23,382.33L339.58,381.81L339.94,381.39L340.29,381.09L340.65,380.93L341.00,366.07L341.35,345.55L341.71,329.13L342.06,318.67L342.42,315.36L342.77,317.91L343.13,324.47L343.48,334.62L343.83,347.72L344.19,362.95L344.54,379.35L344.90,395.89L345.25,411.53L345.61,425.28L345.96,436.30L346.32,443.89L346.67,447.57L347.02,447.18L347.38,443.17L347.73,435.84L348.09,425.67L348.44,413.28L348.80,399.46L349.15,385.09L349.50,371.06L349.86,358.26L350.21,347.48L350.57,339.40L350.92,334.52L351.28,333.16L351.63,335.09L351.99,339.92L352.34,347.34L352.69,356.89L353.05,367.95L353.40,379.85L353.76,391.82L354.11,403.12L354.47,413.04L354.82,420.96L355.18,426.38L355.53,428.96L355.88,428.60L356.24,425.61L356.59,420.21L356.95,412.75L357.30,403.69L357.66,393.61L358.01,383.15L358.36,372.95L358.72,363.66L359.07,355.86L359.43,350.03L359.78,346.55L360.14,345.63L360.49,347.11L360.85,350.71L361.20,356.21L361.55,363.25L361.91,371.41L362.26,380.15L362.62,388.94L362.97,397.22L363.33,404.47L363.68,410.24L364.03,414.17L364.39,416.01L364.74,415.70L365.10,413.50L365.45,409.57L365.81,404.17L366.16,397.63L366.51,390.37L366.87,382.84L367.22,375.52L367.58,368.87L367.93,363.30L368.29,359.16L368.64,356.71L369.00,356.10L369.35,357.21L369.70,359.84L370.06,363.84L370.41,368.94L370.77,374.83L371.12,381.13L371.48,387.46L371.83,393.40L372.18,398.60L372.54,402.72L372.89,405.51L373.25,406.79L373.60,406.52L373.96,404.89L374.31,402.01L374.67,398.07L375.02,393.32L375.37,388.06L375.73,382.61L376.08,377.32L376.44,372.52L376.79,368.51L377.15,365.55L377.50,363.81L377.86,363.41L378.21,364.25L378.56,366.19L378.92,369.13L379.27,372.86L379.63,377.16L379.98,381.75L380.34,386.35L380.69,390.66L381.04,394.42L381.40,397.40L381.75,399.40L382.11,400.30L382.46,400.08L382.82,398.86L383.17,396.75L383.52,393.86L383.88,390.39L384.23,386.56L384.59,382.59L384.94,378.75L385.30,375.28L385.65,372.38L386.01,370.25L386.36,369.01L386.71,368.74L387.07,369.38L387.42,370.81L387.78,372.96L388.13,375.69L388.49,378.83L388.84,382.17L389.19,385.51L389.55,388.64L389.90,391.37L390.26,393.51L390.61,394.95L390.97,395.58L391.32,395.39L391.68,394.49L392.03,392.92L392.38,390.80L392.74,388.25L393.09,385.44L393.45,382.54L393.80,379.74L394.16,377.21L394.51,375.11L394.86,373.56L395.22,372.67L395.57,372.50L395.93,372.98L396.28,374.06L396.64,375.66L396.99,377.68L397.35,379.99L397.70,382.46L398.05,384.92L398.41,387.22L398.76,389.22L399.12,390.79L399.47,391.83L399.83,392.28L400.18,392.13L400.54,391.45L400.89,390.29L401.24,388.72L401.60,386.85L401.95,384.78L402.31,382.65L402.66,380.59L403.02,378.74L403.37,377.21L403.72,376.08L404.08,375.45L404.43,375.33L404.79,375.70L405.14,376.50L405.50,377.68L405.85,379.17L406.20,380.88L406.56,382.69L406.91,384.50L407.27,386.18L407.62,387.64L407.98,388.79L408.33,389.54L408.69,389.86L409.04,389.74L409.39,389.23L409.75,388.37L410.10,387.21L410.46,385.82L410.81,384.30L411.17,382.74L411.52,381.23L411.88,379.88L412.23,378.76L412.58,377.94L412.94,377.48L413.29,377.41L413.65,377.69L414.00,378.28L414.36,379.16L414.71,380.26L415.06,381.52L415.42,382.85L415.77,384.17L416.13,385.41L416.48,386.48L416.84,387.31L417.19,387.85L417.55,388.08L417.90,387.98L418.25,387.60L418.61,386.96L418.96,386.11L419.32,385.09L419.67,383.97L420.03,382.82L420.38,381.71L420.73,380.86L421.09,380.03L421.44,379.42L421.80,379.07L422.15,379.00L422.51,379.18L422.86,379.59L423.21,380.20L423.57,380.99L423.92,381.89L424.28,382.85L424.63,383.81L424.99,384.71L425.34,385.50L425.70,386.11L426.05,386.53L426.40,386.71L426.76,386.66L427.11,386.40L427.47,385.95L427.82,385.35L428.18,384.62L428.53,383.81L428.88,382.98L429.24,382.18L429.59,381.45L429.95,380.85L430.30,380.40L430.66,380.15L431.01,380.10L431.37,380.24L431.72,380.54L432.07,381.00L432.43,381.58L432.78,382.24L433.14,382.95L433.49,383.65L433.85,384.31L434.20,384.89L434.56,385.34L434.91,385.64L435.26,385.76L435.62,382.57L435.97,379.59L436.33,377.13L436.68,375.46L437.04,374.71L437.39,374.61L437.74,375.04L438.10,375.98L438.45,377.37L438.81,379.12L439.16,381.13L439.52,383.26L439.87,385.38L440.23,387.35L440.58,389.02L440.93,390.31L441.29,391.12L441.64,391.43L442.00,391.27L442.35,390.66L442.71,389.64L443.06,388.26L443.41,386.61L443.77,384.80L444.12,382.94L444.48,381.16L444.83,379.58L445.19,378.29L445.54,377.39L445.89,376.92L446.25,376.84L446.60,377.16L446.96,377.85L447.31,378.85L447.67,380.13L448.02,381.58L448.38,383.12L448.73,384.66L449.08,386.08L449.44,387.29L449.79,388.21L450.15,388.79L450.50,389.01L450.86,388.90L451.21,388.45L451.56,387.69L451.92,386.69L452.27,385.48L452.63,384.17L452.98,382.82L453.34,381.52L453.69,380.37L454.05,379.44L454.40,378.79L454.75,378.45L455.11,378.41L455.46,378.65L455.82,379.15L456.17,379.90L456.53,380.84L456.88,381.91L457.24,383.04L457.59,384.17L457.94,385.21L458.30,386.09L458.65,386.77L459.01,387.19L459.36,387.34L459.72,387.26L460.07,386.94L460.42,386.40L460.78,385.67L461.13,384.81L461.49,383.86L461.84,382.89L462.20,381.96L462.55,381.14L462.90,380.47L463.26,380.01L463.61,379.77L463.97,379.78L464.32,379.99L464.68,380.38L465.03,380.91L465.39,381.55L465.74,382.26L466.09,383.00L466.45,383.72L466.80,384.36L467.16,384.90L467.51,385.30L467.87,385.55L468.22,385.64L468.57,385.58L468.93,385.39L469.28,385.09L469.64,384.68L469.99,384.21L470.35,383.69L470.70,383.16L471.06,382.66L471.41,382.22L471.76,381.87L472.12,381.61L472.47,381.47L472.83,381.43L473.18,381.49L473.54,381.64L473.89,381.88L474.25,382.17L474.60,382.52L474.95,382.89L475.31,383.26L475.66,383.60L476.02,383.90L476.37,384.14L476.73,384.30L477.08,384.38L477.43,384.40L477.79,384.34L478.14,384.22L478.50,384.05L478.85,383.83L479.21,383.58L479.56,383.31L479.91,383.05L480.27,382.81L480.62,382.60L480.98,382.44L481.33,382.33L481.69,382.28L482.04,382.27L482.40,382.32L482.75,382.41L483.10,382.53L483.46,382.70L483.81,382.88L484.17,383.07L484.52,383.25L484.88,383.42L485.23,383.57L485.58,383.68L485.94,383.75L486.29,383.79L486.65,383.79L487.00,383.76L487.36,383.69L487.71,383.60L488.07,383.48L488.42,383.34L488.77,383.20L489.13,383.07L489.48,382.94L489.84,382.84L490.19,382.76L490.55,382.71L490.90,382.68L491.25,382.67L491.61,382.70L491.96,382.75L492.32,382.82L492.67,382.91L493.03,383.01L493.38,383.11L493.74,383.21L494.09,383.30L494.44,383.38L494.80,383.44L495.15,383.48L495.51,383.51L495.86,383.51L496.22,383.49L496.57,383.46L496.93,383.40L497.28,383.34L497.63,383.26L497.99,383.18L498.34,383.11L498.70,383.04L499.05,382.98L499.41,382.93L499.76,382.89L500.11,382.87L500.47,382.87L500.82,382.88L501.18,382.91L501.53,382.95L501.89,383.00L502.24,383.06L502.60,383.12L502.95,383.18L503.30,383.24L503.66,383.28L504.01,383.32L504.37,383.35L504.72,383.37L505.08,383.37L505.43,383.36L505.78,383.34L506.14,383.31L506.49,383.27L506.85,383.22L507.20,383.17L507.56,383.13L507.91,383.08L508.26,383.04L508.62,383.01L508.97,382.98L509.33,382.97L509.68,382.97L510.04,382.97L510.39,382.99L510.75,383.02L511.10,383.05L511.45,383.09L511.81,383.13L512.16,383.17L512.52,383.21L512.87,383.24L513.23,383.27L513.58,383.29L513.93,383.30L514.29,383.30L514.64,383.30L515.00,383.12L515.35,383.10L515.71,383.08L516.06,383.07L516.42,383.07L516.77,383.07L517.12,383.08L517.48,383.09L517.83,383.10L518.19,383.12L518.54,383.13L518.90,383.15L519.25,383.17L519.61,383.18L519.96,383.19L520.31,383.20L520.67,383.21L521.02,383.21L521.38,383.20L521.73,383.20L522.09,383.19L522.44,383.18L522.79,383.17L523.15,383.16L523.50,383.14L523.86,383.13L524.21,383.12L524.57,383.12L524.92,383.11L525.27,383.11L525.63,383.11L525.98,383.11L526.34,383.12L526.69,383.12L527.05,383.13L527.40,383.14L527.76,383.15L528.11,383.16L528.46,383.17L528.82,383.17L529.17,383.18L529.53,383.18L529.88,383.18" fill="none" stroke="#281028" stroke-width="0.5" stroke-linejoin="round"/>
</g>
</g>
<line x1="55.6" y1="383.15" x2="58.5" y2="383.15" stroke="#001880" stroke-width="2.7" stroke-linecap="round"/>
<path d="M57.5,466.51h4.6 M530.0,466.51h-4.6 M57.5,438.72h4.6 M530.0,438.72h-4.6 M57.5,410.94h4.6 M530.0,410.94h-4.6 M57.5,383.15h4.6 M530.0,383.15h-4.6 M57.5,355.36h4.6 M530.0,355.36h-4.6 M57.5,327.57h4.6 M530.0,327.57h-4.6 M57.5,299.79h4.6 M530.0,299.79h-4.6 M104.75,494.6v-3 M104.75,272.0v3 M152.00,494.6v-3 M152.00,272.0v3 M199.25,494.6v-3 M199.25,272.0v3 M246.50,494.6v-3 M246.50,272.0v3 M293.75,494.6v-3 M293.75,272.0v3 M341.00,494.6v-3 M341.00,272.0v3 M388.25,494.6v-3 M388.25,272.0v3 M435.50,494.6v-3 M435.50,272.0v3 M482.75,494.6v-3 M482.75,272.0v3" stroke="#585858" stroke-width="1.1" fill="none"/>
<rect x="57.5" y="272.0" width="472.50" height="222.60" fill="none" stroke="#585858" stroke-width="1.3"/>
<text transform="translate(44.14,275.79) scale(1.45,1)" font-family="'Liberation Serif',serif" font-weight="bold" font-size="9.6" stroke="#000" stroke-width="0.35">2</text>
<text transform="translate(33.61,303.58) scale(1.45,1)" font-family="'Liberation Serif',serif" font-weight="bold" font-size="9.6" stroke="#000" stroke-width="0.35">1.5</text>
<text transform="translate(44.26,331.37) scale(1.45,1)" font-family="'Liberation Serif',serif" font-weight="bold" font-size="9.6" stroke="#000" stroke-width="0.35">1</text>
<text transform="translate(33.61,359.15) scale(1.45,1)" font-family="'Liberation Serif',serif" font-weight="bold" font-size="9.6" stroke="#000" stroke-width="0.35">0.5</text>
<text transform="translate(44.07,386.94) scale(1.45,1)" font-family="'Liberation Serif',serif" font-weight="bold" font-size="9.6" stroke="#000" stroke-width="0.35">0</text>
<text transform="translate(28.97,414.73) scale(1.45,1)" font-family="'Liberation Serif',serif" font-weight="bold" font-size="9.6" stroke="#000" stroke-width="0.35">-0.5</text>
<text transform="translate(39.62,442.52) scale(1.45,1)" font-family="'Liberation Serif',serif" font-weight="bold" font-size="9.6" stroke="#000" stroke-width="0.35">-1</text>
<text transform="translate(28.97,470.30) scale(1.45,1)" font-family="'Liberation Serif',serif" font-weight="bold" font-size="9.6" stroke="#000" stroke-width="0.35">-1.5</text>
<text transform="translate(39.50,498.09) scale(1.45,1)" font-family="'Liberation Serif',serif" font-weight="bold" font-size="9.6" stroke="#000" stroke-width="0.35">-2</text>
<text transform="translate(54.02,507.85) scale(1.45,1)" font-family="'Liberation Serif',serif" font-weight="bold" font-size="9.6" stroke="#000" stroke-width="0.35">0</text>
<text transform="translate(97.76,507.85) scale(1.45,1)" font-family="'Liberation Serif',serif" font-weight="bold" font-size="9.6" stroke="#000" stroke-width="0.35">20</text>
<text transform="translate(145.21,507.85) scale(1.45,1)" font-family="'Liberation Serif',serif" font-weight="bold" font-size="9.6" stroke="#000" stroke-width="0.35">40</text>
<text transform="translate(192.32,507.85) scale(1.45,1)" font-family="'Liberation Serif',serif" font-weight="bold" font-size="9.6" stroke="#000" stroke-width="0.35">60</text>
<text transform="translate(239.57,507.85) scale(1.45,1)" font-family="'Liberation Serif',serif" font-weight="bold" font-size="9.6" stroke="#000" stroke-width="0.35">80</text>
<text transform="translate(283.02,507.85) scale(1.45,1)" font-family="'Liberation Serif',serif" font-weight="bold" font-size="9.6" stroke="#000" stroke-width="0.35">100</text>
<text transform="translate(330.27,507.85) scale(1.45,1)" font-family="'Liberation Serif',serif" font-weight="bold" font-size="9.6" stroke="#000" stroke-width="0.35">120</text>
<text transform="translate(377.52,507.85) scale(1.45,1)" font-family="'Liberation Serif',serif" font-weight="bold" font-size="9.6" stroke="#000" stroke-width="0.35">140</text>
<text transform="translate(424.77,507.85) scale(1.45,1)" font-family="'Liberation Serif',serif" font-weight="bold" font-size="9.6" stroke="#000" stroke-width="0.35">160</text>
<text transform="translate(472.02,507.85) scale(1.45,1)" font-family="'Liberation Serif',serif" font-weight="bold" font-size="9.6" stroke="#000" stroke-width="0.35">180</text>
<text transform="translate(519.53,507.85) scale(1.45,1)" font-family="'Liberation Serif',serif" font-weight="bold" font-size="9.6" stroke="#000" stroke-width="0.35">200</text>
<text transform="translate(241.35,522.45) scale(1.374,1)" font-family="'Liberation Serif',serif" font-weight="bold" font-size="11.76" fill="#000" stroke="#000" stroke-width="0.45">Time (seconds)</text>
<text transform="translate(17.30,466.52) rotate(-90) scale(0.980,1)" font-family="'Liberation Serif',serif" font-weight="normal" font-size="15.50" fill="#000" stroke="#000" stroke-width="0.6">Change in Frequency (pu)</text>
<text transform="translate(79.50,336.05) scale(1.371,1)" font-family="'Liberation Sans',sans-serif" font-weight="bold" font-size="10.45" fill="#000" stroke="#000" stroke-width="0.12">10%</text>
<line x1="92.10" y1="339.80" x2="82.42" y2="364.05" stroke="#000" stroke-width="2.6"/>
<path d="M80.20,369.60 L78.50,359.02 L82.42,364.05 L88.72,363.10 Z" fill="#000"/>
<text transform="translate(167.40,331.85) scale(1.352,1)" font-family="'Liberation Sans',sans-serif" font-weight="bold" font-size="10.60" fill="#000" stroke="#000" stroke-width="0.12">20%</text>
<line x1="179.60" y1="335.50" x2="170.20" y2="359.24" stroke="#000" stroke-width="2.6"/>
<path d="M168.00,364.80 L166.27,354.22 L170.20,359.24 L176.50,358.27 Z" fill="#000"/>
<text transform="translate(270.57,321.85) scale(1.320,1)" font-family="'Liberation Sans',sans-serif" font-weight="bold" font-size="10.60" fill="#000" stroke="#000" stroke-width="0.12">50%</text>
<line x1="282.60" y1="325.40" x2="280.58" y2="350.54" stroke="#000" stroke-width="2.6"/>
<path d="M280.10,356.50 L275.35,346.89 L280.58,350.54 L286.32,347.77 Z" fill="#000"/>
<text transform="translate(377.29,322.95) scale(1.352,1)" font-family="'Liberation Sans',sans-serif" font-weight="bold" font-size="10.64" fill="#000" stroke="#000" stroke-width="0.12">15%</text>
<line x1="389.80" y1="326.50" x2="385.60" y2="348.92" stroke="#000" stroke-width="2.6"/>
<path d="M384.50,354.80 L380.79,344.74 L385.60,348.92 L391.60,346.77 Z" fill="#000"/>
<text transform="translate(455.20,339.65) scale(1.342,1)" font-family="'Liberation Sans',sans-serif" font-weight="bold" font-size="10.60" fill="#000" stroke="#000" stroke-width="0.12">10%</text>
<line x1="467.70" y1="343.20" x2="464.10" y2="366.69" stroke="#000" stroke-width="2.6"/>
<path d="M463.20,372.60 L459.16,362.67 L464.10,366.69 L470.03,364.34 Z" fill="#000"/>
<rect x="452.3" y="279.4" width="66" height="43.9" fill="#fff" stroke="#444" stroke-width="1"/>
<line x1="457.6" y1="286.4" x2="483.2" y2="286.4" stroke="#00167a" stroke-width="3" stroke-linecap="round"/>
<line x1="456.4" y1="296.6" x2="483.9" y2="296.6" stroke="#d95a30" stroke-width="1.1"/>
<line x1="456.4" y1="307.0" x2="483.9" y2="307.0" stroke="#e8c050" stroke-width="1.3"/>
<line x1="456.4" y1="317.3" x2="483.9" y2="317.3" stroke="#555" stroke-width="1.0"/>
<text transform="translate(486.68,288.75) scale(1.494,1)" font-family="'Liberation Serif',serif" font-weight="bold" font-size="8.46" fill="#000" stroke="#000" stroke-width="0.45">MPC</text>
<text transform="translate(486.70,299.75) scale(1.485,1)" font-family="'Liberation Serif',serif" font-weight="bold" font-size="8.03" fill="#000" stroke="#000" stroke-width="0.45">FA</text>
<text transform="translate(486.01,309.65) scale(1.497,1)" font-family="'Liberation Serif',serif" font-weight="bold" font-size="8.00" fill="#000" stroke="#000" stroke-width="0.45">GA</text>
<text transform="translate(486.70,320.35) scale(1.431,1)" font-family="'Liberation Serif',serif" font-weight="bold" font-size="8.25" fill="#000" stroke="#000" stroke-width="0.45">PI</text></svg>
</body></html>
